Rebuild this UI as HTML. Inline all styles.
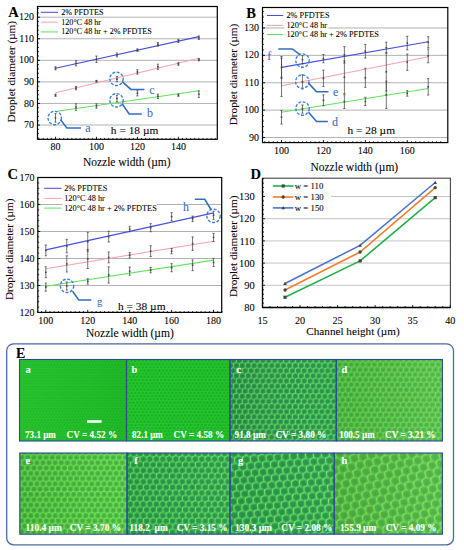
<!DOCTYPE html><html><head><meta charset="utf-8"><style>
html,body{margin:0;padding:0;background:#fff;width:464px;height:550px;overflow:hidden}
svg{display:block;font-family:"Liberation Serif",serif}
text{stroke:currentColor;stroke-width:0.08px;paint-order:stroke}
</style></head><body>
<svg width="464" height="550" viewBox="0 0 464 550">
<defs>
<radialGradient id="pac" cx="0.5" cy="0.5" r="0.5" fx="0.6" fy="0.6"><stop offset="0" stop-color="rgb(27,175,36)"/><stop offset="0.55" stop-color="rgb(28,184,38)"/><stop offset="1" stop-color="rgb(29,189,38)"/></radialGradient>
<pattern id="pa" patternUnits="userSpaceOnUse" width="3.2" height="5.54" patternTransform="rotate(0)"><rect width="3.2" height="5.54" fill="rgb(30,192,38)"/><circle cx="1.34" cy="1.19" r="1.54" fill="rgb(38,200,44)"/><circle cx="-0.26" cy="3.96" r="1.54" fill="rgb(38,200,44)"/><circle cx="2.94" cy="3.96" r="1.54" fill="rgb(38,200,44)"/><circle cx="1.34" cy="6.74" r="1.54" fill="rgb(38,200,44)"/><circle cx="1.34" cy="-4.35" r="1.54" fill="rgb(38,200,44)"/><circle cx="-0.26" cy="-1.58" r="1.54" fill="rgb(38,200,44)"/><circle cx="2.94" cy="-1.58" r="1.54" fill="rgb(38,200,44)"/><circle cx="1.73" cy="1.5" r="1.38" fill="url(#pac)"/><circle cx="0.13" cy="4.27" r="1.38" fill="url(#pac)"/><circle cx="3.33" cy="4.27" r="1.38" fill="url(#pac)"/><circle cx="1.73" cy="7.04" r="1.38" fill="url(#pac)"/><circle cx="1.73" cy="-4.04" r="1.38" fill="url(#pac)"/><circle cx="0.13" cy="-1.27" r="1.38" fill="url(#pac)"/><circle cx="3.33" cy="-1.27" r="1.38" fill="url(#pac)"/></pattern>
<linearGradient id="oa" x1="0" y1="0" x2="1" y2="0"><stop offset="0" stop-color="rgba(255,255,255,0.03)"/><stop offset="1" stop-color="rgba(0,0,0,0.04)"/></linearGradient>
<radialGradient id="pbc" cx="0.5" cy="0.5" r="0.5" fx="0.6" fy="0.6"><stop offset="0" stop-color="rgb(25,171,38)"/><stop offset="0.55" stop-color="rgb(26,180,40)"/><stop offset="1" stop-color="rgb(28,188,39)"/></radialGradient>
<pattern id="pb" patternUnits="userSpaceOnUse" width="3.7" height="6.41" patternTransform="rotate(0)"><rect width="3.7" height="6.41" fill="rgb(30,194,38)"/><circle cx="1.55" cy="1.38" r="1.78" fill="rgb(44,210,50)"/><circle cx="-0.3" cy="4.58" r="1.78" fill="rgb(44,210,50)"/><circle cx="3.4" cy="4.58" r="1.78" fill="rgb(44,210,50)"/><circle cx="1.55" cy="7.79" r="1.78" fill="rgb(44,210,50)"/><circle cx="1.55" cy="-5.03" r="1.78" fill="rgb(44,210,50)"/><circle cx="-0.3" cy="-1.82" r="1.78" fill="rgb(44,210,50)"/><circle cx="3.4" cy="-1.82" r="1.78" fill="rgb(44,210,50)"/><circle cx="2" cy="1.73" r="1.59" fill="url(#pbc)"/><circle cx="0.15" cy="4.94" r="1.59" fill="url(#pbc)"/><circle cx="3.85" cy="4.94" r="1.59" fill="url(#pbc)"/><circle cx="2" cy="8.14" r="1.59" fill="url(#pbc)"/><circle cx="2" cy="-4.68" r="1.59" fill="url(#pbc)"/><circle cx="0.15" cy="-1.47" r="1.59" fill="url(#pbc)"/><circle cx="3.85" cy="-1.47" r="1.59" fill="url(#pbc)"/></pattern>
<linearGradient id="ob" x1="0" y1="0" x2="1" y2="0"><stop offset="0" stop-color="rgba(0,0,0,0)"/><stop offset="1" stop-color="rgba(0,0,0,0.02)"/></linearGradient>
<radialGradient id="pcc" cx="0.5" cy="0.5" r="0.5" fx="0.6" fy="0.6"><stop offset="0" stop-color="rgb(40,137,72)"/><stop offset="0.55" stop-color="rgb(42,144,76)"/><stop offset="1" stop-color="rgb(52,160,78)"/></radialGradient>
<pattern id="pc" patternUnits="userSpaceOnUse" width="5.9" height="10.22" patternTransform="rotate(0)"><rect width="5.9" height="10.22" fill="rgb(58,170,80)"/><circle cx="2.48" cy="2.2" r="2.83" fill="rgb(98,232,100)"/><circle cx="-0.47" cy="7.31" r="2.83" fill="rgb(98,232,100)"/><circle cx="5.43" cy="7.31" r="2.83" fill="rgb(98,232,100)"/><circle cx="2.48" cy="12.42" r="2.83" fill="rgb(98,232,100)"/><circle cx="2.48" cy="-8.02" r="2.83" fill="rgb(98,232,100)"/><circle cx="-0.47" cy="-2.91" r="2.83" fill="rgb(98,232,100)"/><circle cx="5.43" cy="-2.91" r="2.83" fill="rgb(98,232,100)"/><circle cx="3.19" cy="2.76" r="2.54" fill="url(#pcc)"/><circle cx="0.24" cy="7.87" r="2.54" fill="url(#pcc)"/><circle cx="6.14" cy="7.87" r="2.54" fill="url(#pcc)"/><circle cx="3.19" cy="12.98" r="2.54" fill="url(#pcc)"/><circle cx="3.19" cy="-7.46" r="2.54" fill="url(#pcc)"/><circle cx="0.24" cy="-2.35" r="2.54" fill="url(#pcc)"/><circle cx="6.14" cy="-2.35" r="2.54" fill="url(#pcc)"/></pattern>
<linearGradient id="oc" x1="0" y1="0" x2="1" y2="0"><stop offset="0" stop-color="rgba(0,0,0,0.07)"/><stop offset="1" stop-color="rgba(255,255,255,0.02)"/></linearGradient>
<radialGradient id="pdc" cx="0.5" cy="0.5" r="0.5" fx="0.6" fy="0.6"><stop offset="0" stop-color="rgb(68,169,61)"/><stop offset="0.55" stop-color="rgb(72,178,64)"/><stop offset="1" stop-color="rgb(82,191,68)"/></radialGradient>
<pattern id="pd" patternUnits="userSpaceOnUse" width="5.8" height="10.05" patternTransform="rotate(0)"><rect width="5.8" height="10.05" fill="rgb(88,200,70)"/><circle cx="2.44" cy="2.16" r="2.78" fill="rgb(108,224,84)"/><circle cx="-0.46" cy="7.19" r="2.78" fill="rgb(108,224,84)"/><circle cx="5.34" cy="7.19" r="2.78" fill="rgb(108,224,84)"/><circle cx="2.44" cy="12.21" r="2.78" fill="rgb(108,224,84)"/><circle cx="2.44" cy="-7.88" r="2.78" fill="rgb(108,224,84)"/><circle cx="-0.46" cy="-2.86" r="2.78" fill="rgb(108,224,84)"/><circle cx="5.34" cy="-2.86" r="2.78" fill="rgb(108,224,84)"/><circle cx="3.13" cy="2.71" r="2.49" fill="url(#pdc)"/><circle cx="0.23" cy="7.74" r="2.49" fill="url(#pdc)"/><circle cx="6.03" cy="7.74" r="2.49" fill="url(#pdc)"/><circle cx="3.13" cy="12.76" r="2.49" fill="url(#pdc)"/><circle cx="3.13" cy="-7.33" r="2.49" fill="url(#pdc)"/><circle cx="0.23" cy="-2.31" r="2.49" fill="url(#pdc)"/><circle cx="6.03" cy="-2.31" r="2.49" fill="url(#pdc)"/></pattern>
<linearGradient id="od" x1="0" y1="0" x2="1" y2="0"><stop offset="0" stop-color="rgba(0,0,0,0.06)"/><stop offset="1" stop-color="rgba(255,255,255,0.08)"/></linearGradient>
<radialGradient id="pec" cx="0.5" cy="0.5" r="0.5" fx="0.6" fy="0.6"><stop offset="0" stop-color="rgb(65,169,57)"/><stop offset="0.55" stop-color="rgb(68,178,60)"/><stop offset="1" stop-color="rgb(80,194,64)"/></radialGradient>
<pattern id="pe" patternUnits="userSpaceOnUse" width="6.1" height="10.57" patternTransform="rotate(0)"><rect width="6.1" height="10.57" fill="rgb(88,204,66)"/><circle cx="2.56" cy="2.28" r="2.93" fill="rgb(114,232,86)"/><circle cx="-0.49" cy="7.56" r="2.93" fill="rgb(114,232,86)"/><circle cx="5.61" cy="7.56" r="2.93" fill="rgb(114,232,86)"/><circle cx="2.56" cy="12.84" r="2.93" fill="rgb(114,232,86)"/><circle cx="2.56" cy="-8.29" r="2.93" fill="rgb(114,232,86)"/><circle cx="-0.49" cy="-3.01" r="2.93" fill="rgb(114,232,86)"/><circle cx="5.61" cy="-3.01" r="2.93" fill="rgb(114,232,86)"/><circle cx="3.29" cy="2.85" r="2.62" fill="url(#pec)"/><circle cx="0.24" cy="8.14" r="2.62" fill="url(#pec)"/><circle cx="6.34" cy="8.14" r="2.62" fill="url(#pec)"/><circle cx="3.29" cy="13.42" r="2.62" fill="url(#pec)"/><circle cx="3.29" cy="-7.71" r="2.62" fill="url(#pec)"/><circle cx="0.24" cy="-2.43" r="2.62" fill="url(#pec)"/><circle cx="6.34" cy="-2.43" r="2.62" fill="url(#pec)"/></pattern>
<linearGradient id="oe" x1="0" y1="0" x2="1" y2="0"><stop offset="0" stop-color="rgba(0,0,0,0.07)"/><stop offset="1" stop-color="rgba(255,255,255,0.04)"/></linearGradient>
<radialGradient id="pfc" cx="0.5" cy="0.5" r="0.5" fx="0.6" fy="0.6"><stop offset="0" stop-color="rgb(42,142,70)"/><stop offset="0.55" stop-color="rgb(44,150,74)"/><stop offset="1" stop-color="rgb(52,164,76)"/></radialGradient>
<pattern id="pf" patternUnits="userSpaceOnUse" width="6.5" height="11.26" patternTransform="rotate(0)"><rect width="6.5" height="11.26" fill="rgb(58,174,78)"/><circle cx="2.73" cy="2.42" r="3.12" fill="rgb(100,234,100)"/><circle cx="-0.52" cy="8.05" r="3.12" fill="rgb(100,234,100)"/><circle cx="5.98" cy="8.05" r="3.12" fill="rgb(100,234,100)"/><circle cx="2.73" cy="13.68" r="3.12" fill="rgb(100,234,100)"/><circle cx="2.73" cy="-8.83" r="3.12" fill="rgb(100,234,100)"/><circle cx="-0.52" cy="-3.2" r="3.12" fill="rgb(100,234,100)"/><circle cx="5.98" cy="-3.2" r="3.12" fill="rgb(100,234,100)"/><circle cx="3.51" cy="3.04" r="2.79" fill="url(#pfc)"/><circle cx="0.26" cy="8.67" r="2.79" fill="url(#pfc)"/><circle cx="6.76" cy="8.67" r="2.79" fill="url(#pfc)"/><circle cx="3.51" cy="14.3" r="2.79" fill="url(#pfc)"/><circle cx="3.51" cy="-8.22" r="2.79" fill="url(#pfc)"/><circle cx="0.26" cy="-2.59" r="2.79" fill="url(#pfc)"/><circle cx="6.76" cy="-2.59" r="2.79" fill="url(#pfc)"/></pattern>
<linearGradient id="of" x1="0" y1="0" x2="1" y2="0"><stop offset="0" stop-color="rgba(0,0,0,0.03)"/><stop offset="1" stop-color="rgba(255,255,255,0.03)"/></linearGradient>
<radialGradient id="pgc" cx="0.5" cy="0.5" r="0.5" fx="0.6" fy="0.6"><stop offset="0" stop-color="rgb(42,141,70)"/><stop offset="0.55" stop-color="rgb(44,148,74)"/><stop offset="1" stop-color="rgb(54,164,78)"/></radialGradient>
<pattern id="pg" patternUnits="userSpaceOnUse" width="7.9" height="13.68" patternTransform="rotate(-4)"><rect width="7.9" height="13.68" fill="rgb(60,174,80)"/><circle cx="3.32" cy="2.95" r="3.79" fill="rgb(104,238,104)"/><circle cx="-0.63" cy="9.79" r="3.79" fill="rgb(104,238,104)"/><circle cx="7.27" cy="9.79" r="3.79" fill="rgb(104,238,104)"/><circle cx="3.32" cy="16.63" r="3.79" fill="rgb(104,238,104)"/><circle cx="3.32" cy="-10.74" r="3.79" fill="rgb(104,238,104)"/><circle cx="-0.63" cy="-3.89" r="3.79" fill="rgb(104,238,104)"/><circle cx="7.27" cy="-3.89" r="3.79" fill="rgb(104,238,104)"/><circle cx="4.27" cy="3.7" r="3.4" fill="url(#pgc)"/><circle cx="0.32" cy="10.54" r="3.4" fill="url(#pgc)"/><circle cx="8.22" cy="10.54" r="3.4" fill="url(#pgc)"/><circle cx="4.27" cy="17.38" r="3.4" fill="url(#pgc)"/><circle cx="4.27" cy="-9.99" r="3.4" fill="url(#pgc)"/><circle cx="0.32" cy="-3.14" r="3.4" fill="url(#pgc)"/><circle cx="8.22" cy="-3.14" r="3.4" fill="url(#pgc)"/></pattern>
<linearGradient id="og" x1="0" y1="0" x2="1" y2="0"><stop offset="0" stop-color="rgba(0,0,0,0.03)"/><stop offset="1" stop-color="rgba(255,255,255,0.03)"/></linearGradient>
<radialGradient id="phc" cx="0.5" cy="0.5" r="0.5" fx="0.6" fy="0.6"><stop offset="0" stop-color="rgb(74,167,63)"/><stop offset="0.55" stop-color="rgb(78,176,66)"/><stop offset="1" stop-color="rgb(85,187,68)"/></radialGradient>
<pattern id="ph" patternUnits="userSpaceOnUse" width="8.8" height="15.24" patternTransform="rotate(-12)"><rect width="8.8" height="15.24" fill="rgb(90,194,70)"/><circle cx="3.7" cy="3.28" r="4.22" fill="rgb(120,234,92)"/><circle cx="-0.7" cy="10.9" r="4.22" fill="rgb(120,234,92)"/><circle cx="8.1" cy="10.9" r="4.22" fill="rgb(120,234,92)"/><circle cx="3.7" cy="18.52" r="4.22" fill="rgb(120,234,92)"/><circle cx="3.7" cy="-11.96" r="4.22" fill="rgb(120,234,92)"/><circle cx="-0.7" cy="-4.34" r="4.22" fill="rgb(120,234,92)"/><circle cx="8.1" cy="-4.34" r="4.22" fill="rgb(120,234,92)"/><circle cx="4.75" cy="4.12" r="3.78" fill="url(#phc)"/><circle cx="0.35" cy="11.74" r="3.78" fill="url(#phc)"/><circle cx="9.15" cy="11.74" r="3.78" fill="url(#phc)"/><circle cx="4.75" cy="19.36" r="3.78" fill="url(#phc)"/><circle cx="4.75" cy="-11.12" r="3.78" fill="url(#phc)"/><circle cx="0.35" cy="-3.5" r="3.78" fill="url(#phc)"/><circle cx="9.15" cy="-3.5" r="3.78" fill="url(#phc)"/></pattern>
<linearGradient id="oh" x1="0" y1="0" x2="1" y2="0"><stop offset="0" stop-color="rgba(0,0,0,0.05)"/><stop offset="1" stop-color="rgba(255,255,255,0.05)"/></linearGradient>
<filter id="soft" x="0" y="0" width="1" height="1"><feGaussianBlur stdDeviation="0.45"/></filter>
</defs>
<line x1="37.5" y1="125" x2="217.3" y2="125" stroke="#a9a9a9" stroke-width="0.9" />
<line x1="37.5" y1="103.44" x2="217.3" y2="103.44" stroke="#a9a9a9" stroke-width="0.9" />
<line x1="37.5" y1="81.88" x2="217.3" y2="81.88" stroke="#a9a9a9" stroke-width="0.9" />
<line x1="37.5" y1="60.32" x2="217.3" y2="60.32" stroke="#a9a9a9" stroke-width="0.9" />
<line x1="37.5" y1="38.76" x2="217.3" y2="38.76" stroke="#a9a9a9" stroke-width="0.9" />
<line x1="37.5" y1="17.2" x2="217.3" y2="17.2" stroke="#a9a9a9" stroke-width="0.9" />
<line x1="55.5" y1="68.3" x2="198.86" y2="36.6" stroke="#4650dc" stroke-width="1.1" />
<line x1="55.5" y1="92.66" x2="198.86" y2="58.16" stroke="#f5a5ae" stroke-width="1.1" />
<line x1="55.5" y1="111.42" x2="198.86" y2="90.72" stroke="#62e35e" stroke-width="1.1" />
<line x1="55.5" y1="66.79" x2="55.5" y2="69.81" stroke="#3a3a3a" stroke-width="0.7" />
<line x1="54.4" y1="66.79" x2="56.6" y2="66.79" stroke="#3a3a3a" stroke-width="0.7" />
<line x1="54.4" y1="69.81" x2="56.6" y2="69.81" stroke="#3a3a3a" stroke-width="0.7" />
<rect x="54.7" y="67.5" width="1.6" height="1.6" fill="#444"/>
<line x1="75.98" y1="60.75" x2="75.98" y2="65.93" stroke="#3a3a3a" stroke-width="0.7" />
<line x1="74.88" y1="60.75" x2="77.08" y2="60.75" stroke="#3a3a3a" stroke-width="0.7" />
<line x1="74.88" y1="65.93" x2="77.08" y2="65.93" stroke="#3a3a3a" stroke-width="0.7" />
<rect x="75.18" y="62.54" width="1.6" height="1.6" fill="#444"/>
<line x1="96.46" y1="56.01" x2="96.46" y2="62.48" stroke="#3a3a3a" stroke-width="0.7" />
<line x1="95.36" y1="56.01" x2="97.56" y2="56.01" stroke="#3a3a3a" stroke-width="0.7" />
<line x1="95.36" y1="62.48" x2="97.56" y2="62.48" stroke="#3a3a3a" stroke-width="0.7" />
<rect x="95.66" y="58.44" width="1.6" height="1.6" fill="#444"/>
<line x1="116.94" y1="52.99" x2="116.94" y2="56.87" stroke="#3a3a3a" stroke-width="0.7" />
<line x1="115.84" y1="52.99" x2="118.04" y2="52.99" stroke="#3a3a3a" stroke-width="0.7" />
<line x1="115.84" y1="56.87" x2="118.04" y2="56.87" stroke="#3a3a3a" stroke-width="0.7" />
<rect x="116.14" y="54.13" width="1.6" height="1.6" fill="#444"/>
<line x1="137.42" y1="48.89" x2="137.42" y2="51.48" stroke="#3a3a3a" stroke-width="0.7" />
<line x1="136.32" y1="48.89" x2="138.52" y2="48.89" stroke="#3a3a3a" stroke-width="0.7" />
<line x1="136.32" y1="51.48" x2="138.52" y2="51.48" stroke="#3a3a3a" stroke-width="0.7" />
<rect x="136.62" y="49.39" width="1.6" height="1.6" fill="#444"/>
<line x1="157.9" y1="42.64" x2="157.9" y2="46.09" stroke="#3a3a3a" stroke-width="0.7" />
<line x1="156.8" y1="42.64" x2="159" y2="42.64" stroke="#3a3a3a" stroke-width="0.7" />
<line x1="156.8" y1="46.09" x2="159" y2="46.09" stroke="#3a3a3a" stroke-width="0.7" />
<rect x="157.1" y="43.57" width="1.6" height="1.6" fill="#444"/>
<line x1="178.38" y1="39.41" x2="178.38" y2="42.43" stroke="#3a3a3a" stroke-width="0.7" />
<line x1="177.28" y1="39.41" x2="179.48" y2="39.41" stroke="#3a3a3a" stroke-width="0.7" />
<line x1="177.28" y1="42.43" x2="179.48" y2="42.43" stroke="#3a3a3a" stroke-width="0.7" />
<rect x="177.58" y="40.12" width="1.6" height="1.6" fill="#444"/>
<line x1="198.86" y1="35.96" x2="198.86" y2="39.41" stroke="#3a3a3a" stroke-width="0.7" />
<line x1="197.76" y1="35.96" x2="199.96" y2="35.96" stroke="#3a3a3a" stroke-width="0.7" />
<line x1="197.76" y1="39.41" x2="199.96" y2="39.41" stroke="#3a3a3a" stroke-width="0.7" />
<rect x="198.06" y="36.88" width="1.6" height="1.6" fill="#444"/>
<line x1="55.5" y1="94.17" x2="55.5" y2="96.33" stroke="#3a3a3a" stroke-width="0.7" />
<line x1="54.4" y1="94.17" x2="56.6" y2="94.17" stroke="#3a3a3a" stroke-width="0.7" />
<line x1="54.4" y1="96.33" x2="56.6" y2="96.33" stroke="#3a3a3a" stroke-width="0.7" />
<rect x="54.7" y="94.45" width="1.6" height="1.6" fill="#444"/>
<line x1="75.98" y1="86.41" x2="75.98" y2="89.86" stroke="#3a3a3a" stroke-width="0.7" />
<line x1="74.88" y1="86.41" x2="77.08" y2="86.41" stroke="#3a3a3a" stroke-width="0.7" />
<line x1="74.88" y1="89.86" x2="77.08" y2="89.86" stroke="#3a3a3a" stroke-width="0.7" />
<rect x="75.18" y="87.33" width="1.6" height="1.6" fill="#444"/>
<line x1="96.46" y1="80.37" x2="96.46" y2="82.1" stroke="#3a3a3a" stroke-width="0.7" />
<line x1="95.36" y1="80.37" x2="97.56" y2="80.37" stroke="#3a3a3a" stroke-width="0.7" />
<line x1="95.36" y1="82.1" x2="97.56" y2="82.1" stroke="#3a3a3a" stroke-width="0.7" />
<rect x="95.66" y="80.43" width="1.6" height="1.6" fill="#444"/>
<line x1="116.94" y1="76.49" x2="116.94" y2="81.66" stroke="#3a3a3a" stroke-width="0.7" />
<line x1="115.84" y1="76.49" x2="118.04" y2="76.49" stroke="#3a3a3a" stroke-width="0.7" />
<line x1="115.84" y1="81.66" x2="118.04" y2="81.66" stroke="#3a3a3a" stroke-width="0.7" />
<rect x="116.14" y="78.28" width="1.6" height="1.6" fill="#444"/>
<line x1="137.42" y1="69.81" x2="137.42" y2="74.12" stroke="#3a3a3a" stroke-width="0.7" />
<line x1="136.32" y1="69.81" x2="138.52" y2="69.81" stroke="#3a3a3a" stroke-width="0.7" />
<line x1="136.32" y1="74.12" x2="138.52" y2="74.12" stroke="#3a3a3a" stroke-width="0.7" />
<rect x="136.62" y="71.16" width="1.6" height="1.6" fill="#444"/>
<line x1="157.9" y1="64.2" x2="157.9" y2="69.38" stroke="#3a3a3a" stroke-width="0.7" />
<line x1="156.8" y1="64.2" x2="159" y2="64.2" stroke="#3a3a3a" stroke-width="0.7" />
<line x1="156.8" y1="69.38" x2="159" y2="69.38" stroke="#3a3a3a" stroke-width="0.7" />
<rect x="157.1" y="65.99" width="1.6" height="1.6" fill="#444"/>
<line x1="178.38" y1="62.69" x2="178.38" y2="65.28" stroke="#3a3a3a" stroke-width="0.7" />
<line x1="177.28" y1="62.69" x2="179.48" y2="62.69" stroke="#3a3a3a" stroke-width="0.7" />
<line x1="177.28" y1="65.28" x2="179.48" y2="65.28" stroke="#3a3a3a" stroke-width="0.7" />
<rect x="177.58" y="63.19" width="1.6" height="1.6" fill="#444"/>
<line x1="198.86" y1="58.6" x2="198.86" y2="60.75" stroke="#3a3a3a" stroke-width="0.7" />
<line x1="197.76" y1="58.6" x2="199.96" y2="58.6" stroke="#3a3a3a" stroke-width="0.7" />
<line x1="197.76" y1="60.75" x2="199.96" y2="60.75" stroke="#3a3a3a" stroke-width="0.7" />
<rect x="198.06" y="58.87" width="1.6" height="1.6" fill="#444"/>
<line x1="55.5" y1="113.57" x2="55.5" y2="122.2" stroke="#3a3a3a" stroke-width="0.7" />
<line x1="54.4" y1="113.57" x2="56.6" y2="113.57" stroke="#3a3a3a" stroke-width="0.7" />
<line x1="54.4" y1="122.2" x2="56.6" y2="122.2" stroke="#3a3a3a" stroke-width="0.7" />
<rect x="54.7" y="117.09" width="1.6" height="1.6" fill="#444"/>
<line x1="75.98" y1="103.87" x2="75.98" y2="110.34" stroke="#3a3a3a" stroke-width="0.7" />
<line x1="74.88" y1="103.87" x2="77.08" y2="103.87" stroke="#3a3a3a" stroke-width="0.7" />
<line x1="74.88" y1="110.34" x2="77.08" y2="110.34" stroke="#3a3a3a" stroke-width="0.7" />
<rect x="75.18" y="106.31" width="1.6" height="1.6" fill="#444"/>
<line x1="96.46" y1="103.87" x2="96.46" y2="108.18" stroke="#3a3a3a" stroke-width="0.7" />
<line x1="95.36" y1="103.87" x2="97.56" y2="103.87" stroke="#3a3a3a" stroke-width="0.7" />
<line x1="95.36" y1="108.18" x2="97.56" y2="108.18" stroke="#3a3a3a" stroke-width="0.7" />
<rect x="95.66" y="105.23" width="1.6" height="1.6" fill="#444"/>
<line x1="116.94" y1="95.25" x2="116.94" y2="101.72" stroke="#3a3a3a" stroke-width="0.7" />
<line x1="115.84" y1="95.25" x2="118.04" y2="95.25" stroke="#3a3a3a" stroke-width="0.7" />
<line x1="115.84" y1="101.72" x2="118.04" y2="101.72" stroke="#3a3a3a" stroke-width="0.7" />
<rect x="116.14" y="97.68" width="1.6" height="1.6" fill="#444"/>
<line x1="137.42" y1="90.72" x2="137.42" y2="95.89" stroke="#3a3a3a" stroke-width="0.7" />
<line x1="136.32" y1="90.72" x2="138.52" y2="90.72" stroke="#3a3a3a" stroke-width="0.7" />
<line x1="136.32" y1="95.89" x2="138.52" y2="95.89" stroke="#3a3a3a" stroke-width="0.7" />
<rect x="136.62" y="92.51" width="1.6" height="1.6" fill="#444"/>
<line x1="157.9" y1="94.17" x2="157.9" y2="98.48" stroke="#3a3a3a" stroke-width="0.7" />
<line x1="156.8" y1="94.17" x2="159" y2="94.17" stroke="#3a3a3a" stroke-width="0.7" />
<line x1="156.8" y1="98.48" x2="159" y2="98.48" stroke="#3a3a3a" stroke-width="0.7" />
<rect x="157.1" y="95.53" width="1.6" height="1.6" fill="#444"/>
<line x1="178.38" y1="94.17" x2="178.38" y2="96.33" stroke="#3a3a3a" stroke-width="0.7" />
<line x1="177.28" y1="94.17" x2="179.48" y2="94.17" stroke="#3a3a3a" stroke-width="0.7" />
<line x1="177.28" y1="96.33" x2="179.48" y2="96.33" stroke="#3a3a3a" stroke-width="0.7" />
<rect x="177.58" y="94.45" width="1.6" height="1.6" fill="#444"/>
<line x1="198.86" y1="90.94" x2="198.86" y2="97.4" stroke="#3a3a3a" stroke-width="0.7" />
<line x1="197.76" y1="90.94" x2="199.96" y2="90.94" stroke="#3a3a3a" stroke-width="0.7" />
<line x1="197.76" y1="97.4" x2="199.96" y2="97.4" stroke="#3a3a3a" stroke-width="0.7" />
<rect x="198.06" y="93.37" width="1.6" height="1.6" fill="#444"/>
<rect x="37.5" y="6.5" width="179.8" height="132.8" fill="none" stroke="#000" stroke-width="1.2"/>
<line x1="55.5" y1="139.3" x2="55.5" y2="136.8" stroke="#000" stroke-width="0.9" />
<line x1="96.46" y1="139.3" x2="96.46" y2="136.8" stroke="#000" stroke-width="0.9" />
<line x1="137.42" y1="139.3" x2="137.42" y2="136.8" stroke="#000" stroke-width="0.9" />
<line x1="178.38" y1="139.3" x2="178.38" y2="136.8" stroke="#000" stroke-width="0.9" />
<line x1="39.12" y1="139.3" x2="39.12" y2="137.9" stroke="#000" stroke-width="0.8" />
<line x1="43.21" y1="139.3" x2="43.21" y2="137.9" stroke="#000" stroke-width="0.8" />
<line x1="47.31" y1="139.3" x2="47.31" y2="137.9" stroke="#000" stroke-width="0.8" />
<line x1="51.4" y1="139.3" x2="51.4" y2="137.9" stroke="#000" stroke-width="0.8" />
<line x1="59.6" y1="139.3" x2="59.6" y2="137.9" stroke="#000" stroke-width="0.8" />
<line x1="63.69" y1="139.3" x2="63.69" y2="137.9" stroke="#000" stroke-width="0.8" />
<line x1="67.79" y1="139.3" x2="67.79" y2="137.9" stroke="#000" stroke-width="0.8" />
<line x1="71.88" y1="139.3" x2="71.88" y2="137.9" stroke="#000" stroke-width="0.8" />
<line x1="75.98" y1="139.3" x2="75.98" y2="137.9" stroke="#000" stroke-width="0.8" />
<line x1="80.08" y1="139.3" x2="80.08" y2="137.9" stroke="#000" stroke-width="0.8" />
<line x1="84.17" y1="139.3" x2="84.17" y2="137.9" stroke="#000" stroke-width="0.8" />
<line x1="88.27" y1="139.3" x2="88.27" y2="137.9" stroke="#000" stroke-width="0.8" />
<line x1="92.36" y1="139.3" x2="92.36" y2="137.9" stroke="#000" stroke-width="0.8" />
<line x1="100.56" y1="139.3" x2="100.56" y2="137.9" stroke="#000" stroke-width="0.8" />
<line x1="104.65" y1="139.3" x2="104.65" y2="137.9" stroke="#000" stroke-width="0.8" />
<line x1="108.75" y1="139.3" x2="108.75" y2="137.9" stroke="#000" stroke-width="0.8" />
<line x1="112.84" y1="139.3" x2="112.84" y2="137.9" stroke="#000" stroke-width="0.8" />
<line x1="116.94" y1="139.3" x2="116.94" y2="137.9" stroke="#000" stroke-width="0.8" />
<line x1="121.04" y1="139.3" x2="121.04" y2="137.9" stroke="#000" stroke-width="0.8" />
<line x1="125.13" y1="139.3" x2="125.13" y2="137.9" stroke="#000" stroke-width="0.8" />
<line x1="129.23" y1="139.3" x2="129.23" y2="137.9" stroke="#000" stroke-width="0.8" />
<line x1="133.32" y1="139.3" x2="133.32" y2="137.9" stroke="#000" stroke-width="0.8" />
<line x1="141.52" y1="139.3" x2="141.52" y2="137.9" stroke="#000" stroke-width="0.8" />
<line x1="145.61" y1="139.3" x2="145.61" y2="137.9" stroke="#000" stroke-width="0.8" />
<line x1="149.71" y1="139.3" x2="149.71" y2="137.9" stroke="#000" stroke-width="0.8" />
<line x1="153.8" y1="139.3" x2="153.8" y2="137.9" stroke="#000" stroke-width="0.8" />
<line x1="157.9" y1="139.3" x2="157.9" y2="137.9" stroke="#000" stroke-width="0.8" />
<line x1="162" y1="139.3" x2="162" y2="137.9" stroke="#000" stroke-width="0.8" />
<line x1="166.09" y1="139.3" x2="166.09" y2="137.9" stroke="#000" stroke-width="0.8" />
<line x1="170.19" y1="139.3" x2="170.19" y2="137.9" stroke="#000" stroke-width="0.8" />
<line x1="174.28" y1="139.3" x2="174.28" y2="137.9" stroke="#000" stroke-width="0.8" />
<line x1="182.48" y1="139.3" x2="182.48" y2="137.9" stroke="#000" stroke-width="0.8" />
<line x1="186.57" y1="139.3" x2="186.57" y2="137.9" stroke="#000" stroke-width="0.8" />
<line x1="190.67" y1="139.3" x2="190.67" y2="137.9" stroke="#000" stroke-width="0.8" />
<line x1="194.76" y1="139.3" x2="194.76" y2="137.9" stroke="#000" stroke-width="0.8" />
<line x1="198.86" y1="139.3" x2="198.86" y2="137.9" stroke="#000" stroke-width="0.8" />
<line x1="202.96" y1="139.3" x2="202.96" y2="137.9" stroke="#000" stroke-width="0.8" />
<line x1="207.05" y1="139.3" x2="207.05" y2="137.9" stroke="#000" stroke-width="0.8" />
<line x1="211.15" y1="139.3" x2="211.15" y2="137.9" stroke="#000" stroke-width="0.8" />
<line x1="215.24" y1="139.3" x2="215.24" y2="137.9" stroke="#000" stroke-width="0.8" />
<line x1="37.5" y1="125" x2="40" y2="125" stroke="#000" stroke-width="0.9" />
<line x1="37.5" y1="103.44" x2="40" y2="103.44" stroke="#000" stroke-width="0.9" />
<line x1="37.5" y1="81.88" x2="40" y2="81.88" stroke="#000" stroke-width="0.9" />
<line x1="37.5" y1="60.32" x2="40" y2="60.32" stroke="#000" stroke-width="0.9" />
<line x1="37.5" y1="38.76" x2="40" y2="38.76" stroke="#000" stroke-width="0.9" />
<line x1="37.5" y1="17.2" x2="40" y2="17.2" stroke="#000" stroke-width="0.9" />
<line x1="37.5" y1="137.94" x2="38.9" y2="137.94" stroke="#000" stroke-width="0.8" />
<line x1="37.5" y1="133.62" x2="38.9" y2="133.62" stroke="#000" stroke-width="0.8" />
<line x1="37.5" y1="129.31" x2="38.9" y2="129.31" stroke="#000" stroke-width="0.8" />
<line x1="37.5" y1="120.69" x2="38.9" y2="120.69" stroke="#000" stroke-width="0.8" />
<line x1="37.5" y1="116.38" x2="38.9" y2="116.38" stroke="#000" stroke-width="0.8" />
<line x1="37.5" y1="112.06" x2="38.9" y2="112.06" stroke="#000" stroke-width="0.8" />
<line x1="37.5" y1="107.75" x2="38.9" y2="107.75" stroke="#000" stroke-width="0.8" />
<line x1="37.5" y1="99.13" x2="38.9" y2="99.13" stroke="#000" stroke-width="0.8" />
<line x1="37.5" y1="94.82" x2="38.9" y2="94.82" stroke="#000" stroke-width="0.8" />
<line x1="37.5" y1="90.5" x2="38.9" y2="90.5" stroke="#000" stroke-width="0.8" />
<line x1="37.5" y1="86.19" x2="38.9" y2="86.19" stroke="#000" stroke-width="0.8" />
<line x1="37.5" y1="77.57" x2="38.9" y2="77.57" stroke="#000" stroke-width="0.8" />
<line x1="37.5" y1="73.26" x2="38.9" y2="73.26" stroke="#000" stroke-width="0.8" />
<line x1="37.5" y1="68.94" x2="38.9" y2="68.94" stroke="#000" stroke-width="0.8" />
<line x1="37.5" y1="64.63" x2="38.9" y2="64.63" stroke="#000" stroke-width="0.8" />
<line x1="37.5" y1="56.01" x2="38.9" y2="56.01" stroke="#000" stroke-width="0.8" />
<line x1="37.5" y1="51.7" x2="38.9" y2="51.7" stroke="#000" stroke-width="0.8" />
<line x1="37.5" y1="47.38" x2="38.9" y2="47.38" stroke="#000" stroke-width="0.8" />
<line x1="37.5" y1="43.07" x2="38.9" y2="43.07" stroke="#000" stroke-width="0.8" />
<line x1="37.5" y1="34.45" x2="38.9" y2="34.45" stroke="#000" stroke-width="0.8" />
<line x1="37.5" y1="30.14" x2="38.9" y2="30.14" stroke="#000" stroke-width="0.8" />
<line x1="37.5" y1="25.82" x2="38.9" y2="25.82" stroke="#000" stroke-width="0.8" />
<line x1="37.5" y1="21.51" x2="38.9" y2="21.51" stroke="#000" stroke-width="0.8" />
<line x1="37.5" y1="12.89" x2="38.9" y2="12.89" stroke="#000" stroke-width="0.8" />
<line x1="37.5" y1="8.58" x2="38.9" y2="8.58" stroke="#000" stroke-width="0.8" />
<text x="55.5" y="150.3" font-size="10" text-anchor="middle" fill="#000" color="#000" font-weight="normal" >80</text>
<text x="96.46" y="150.3" font-size="10" text-anchor="middle" fill="#000" color="#000" font-weight="normal" >100</text>
<text x="137.42" y="150.3" font-size="10" text-anchor="middle" fill="#000" color="#000" font-weight="normal" >120</text>
<text x="178.38" y="150.3" font-size="10" text-anchor="middle" fill="#000" color="#000" font-weight="normal" >140</text>
<text x="34" y="128.1" font-size="10" text-anchor="end" fill="#000" color="#000" font-weight="normal" >70</text>
<text x="34" y="106.54" font-size="10" text-anchor="end" fill="#000" color="#000" font-weight="normal" >80</text>
<text x="34" y="84.98" font-size="10" text-anchor="end" fill="#000" color="#000" font-weight="normal" >90</text>
<text x="34" y="63.42" font-size="10" text-anchor="end" fill="#000" color="#000" font-weight="normal" >100</text>
<text x="34" y="41.86" font-size="10" text-anchor="end" fill="#000" color="#000" font-weight="normal" >110</text>
<text x="34" y="20.3" font-size="10" text-anchor="end" fill="#000" color="#000" font-weight="normal" >120</text>
<text x="126.75" y="166.2" font-size="11.5" text-anchor="middle" fill="#000" color="#000" font-weight="normal" >Nozzle width (µm)</text>
<text x="0" y="0" font-size="11.2" text-anchor="middle" transform="translate(15.1,71.7) rotate(-90)">Droplet diameter (µm)</text>
<text x="8.2" y="17.4" font-size="14.5" text-anchor="start" fill="#000" color="#000" font-weight="bold" >A</text>
<line x1="40.8" y1="12.3" x2="58" y2="12.3" stroke="#4650dc" stroke-width="1.05" />
<text x="61.2" y="14.8" font-size="8.13" text-anchor="start" fill="#000" color="#000" font-weight="normal" >2% PFDTES</text>
<line x1="40.8" y1="22.2" x2="58" y2="22.2" stroke="#f5a5ae" stroke-width="1.05" />
<text x="61.2" y="24.7" font-size="8.13" text-anchor="start" fill="#000" color="#000" font-weight="normal" >120°C 48 hr</text>
<line x1="40.8" y1="31.9" x2="58" y2="31.9" stroke="#62e35e" stroke-width="1.05" />
<text x="61.2" y="34.4" font-size="8.13" text-anchor="start" fill="#000" color="#000" font-weight="normal" >120°C 48 hr + 2% PFDTES</text>
<circle cx="54.7" cy="118" r="6.7" fill="none" stroke="#3a80d4" stroke-width="1.35" stroke-dasharray="3,1.5"/>
<polyline points="60.5,119.7 66.9,127.9 81,127.9" fill="none" stroke="#2f6fc0" stroke-width="1.55"/>
<text x="85.3" y="131.6" font-size="12" text-anchor="start" fill="#2f6fc0" color="#2f6fc0" font-weight="normal" >a</text>
<circle cx="116.5" cy="78.8" r="6.7" fill="none" stroke="#3a80d4" stroke-width="1.35" stroke-dasharray="3,1.5"/>
<polyline points="122.2,81.6 130.9,89.4 144.5,89.4" fill="none" stroke="#2f6fc0" stroke-width="1.55"/>
<text x="149.3" y="93.8" font-size="12" text-anchor="start" fill="#2f6fc0" color="#2f6fc0" font-weight="normal" >c</text>
<circle cx="116.5" cy="100.3" r="6.7" fill="none" stroke="#3a80d4" stroke-width="1.35" stroke-dasharray="3,1.5"/>
<polyline points="122.2,104 129.2,113.9 141.8,113.9" fill="none" stroke="#2f6fc0" stroke-width="1.55"/>
<text x="147.1" y="117.2" font-size="12" text-anchor="start" fill="#2f6fc0" color="#2f6fc0" font-weight="normal" >b</text>
<text x="134.6" y="134.4" font-size="11.4" text-anchor="middle" fill="#000" color="#000" font-weight="normal" >h = 18 µm</text>
<line x1="262.5" y1="137.5" x2="447.8" y2="137.5" stroke="#a9a9a9" stroke-width="0.9" />
<line x1="262.5" y1="110.12" x2="447.8" y2="110.12" stroke="#a9a9a9" stroke-width="0.9" />
<line x1="262.5" y1="82.74" x2="447.8" y2="82.74" stroke="#a9a9a9" stroke-width="0.9" />
<line x1="262.5" y1="55.36" x2="447.8" y2="55.36" stroke="#a9a9a9" stroke-width="0.9" />
<line x1="262.5" y1="27.98" x2="447.8" y2="27.98" stroke="#a9a9a9" stroke-width="0.9" />
<rect x="284.4" y="21.5" width="44" height="9" fill="#fff"/>
<line x1="281.5" y1="67.41" x2="428.22" y2="41.67" stroke="#4650dc" stroke-width="1.1" />
<line x1="281.5" y1="85.75" x2="428.22" y2="56.73" stroke="#f5a5ae" stroke-width="1.1" />
<line x1="281.5" y1="112.31" x2="428.22" y2="88.49" stroke="#62e35e" stroke-width="1.1" />
<line x1="281.5" y1="56.46" x2="281.5" y2="78.36" stroke="#3a3a3a" stroke-width="0.7" />
<line x1="280.4" y1="56.46" x2="282.6" y2="56.46" stroke="#3a3a3a" stroke-width="0.7" />
<line x1="280.4" y1="78.36" x2="282.6" y2="78.36" stroke="#3a3a3a" stroke-width="0.7" />
<rect x="280.7" y="66.61" width="1.6" height="1.6" fill="#444"/>
<line x1="302.46" y1="55.63" x2="302.46" y2="63.85" stroke="#3a3a3a" stroke-width="0.7" />
<line x1="301.36" y1="55.63" x2="303.56" y2="55.63" stroke="#3a3a3a" stroke-width="0.7" />
<line x1="301.36" y1="63.85" x2="303.56" y2="63.85" stroke="#3a3a3a" stroke-width="0.7" />
<rect x="301.66" y="58.94" width="1.6" height="1.6" fill="#444"/>
<line x1="323.42" y1="54.54" x2="323.42" y2="62.75" stroke="#3a3a3a" stroke-width="0.7" />
<line x1="322.32" y1="54.54" x2="324.52" y2="54.54" stroke="#3a3a3a" stroke-width="0.7" />
<line x1="322.32" y1="62.75" x2="324.52" y2="62.75" stroke="#3a3a3a" stroke-width="0.7" />
<rect x="322.62" y="57.85" width="1.6" height="1.6" fill="#444"/>
<line x1="344.38" y1="46.6" x2="344.38" y2="63.03" stroke="#3a3a3a" stroke-width="0.7" />
<line x1="343.28" y1="46.6" x2="345.48" y2="46.6" stroke="#3a3a3a" stroke-width="0.7" />
<line x1="343.28" y1="63.03" x2="345.48" y2="63.03" stroke="#3a3a3a" stroke-width="0.7" />
<rect x="343.58" y="54.01" width="1.6" height="1.6" fill="#444"/>
<line x1="365.34" y1="44.41" x2="365.34" y2="58.1" stroke="#3a3a3a" stroke-width="0.7" />
<line x1="364.24" y1="44.41" x2="366.44" y2="44.41" stroke="#3a3a3a" stroke-width="0.7" />
<line x1="364.24" y1="58.1" x2="366.44" y2="58.1" stroke="#3a3a3a" stroke-width="0.7" />
<rect x="364.54" y="50.45" width="1.6" height="1.6" fill="#444"/>
<line x1="386.3" y1="42.22" x2="386.3" y2="53.17" stroke="#3a3a3a" stroke-width="0.7" />
<line x1="385.2" y1="42.22" x2="387.4" y2="42.22" stroke="#3a3a3a" stroke-width="0.7" />
<line x1="385.2" y1="53.17" x2="387.4" y2="53.17" stroke="#3a3a3a" stroke-width="0.7" />
<rect x="385.5" y="46.89" width="1.6" height="1.6" fill="#444"/>
<line x1="407.26" y1="36.19" x2="407.26" y2="49.88" stroke="#3a3a3a" stroke-width="0.7" />
<line x1="406.16" y1="36.19" x2="408.36" y2="36.19" stroke="#3a3a3a" stroke-width="0.7" />
<line x1="406.16" y1="49.88" x2="408.36" y2="49.88" stroke="#3a3a3a" stroke-width="0.7" />
<rect x="406.46" y="42.24" width="1.6" height="1.6" fill="#444"/>
<line x1="428.22" y1="36.74" x2="428.22" y2="47.69" stroke="#3a3a3a" stroke-width="0.7" />
<line x1="427.12" y1="36.74" x2="429.32" y2="36.74" stroke="#3a3a3a" stroke-width="0.7" />
<line x1="427.12" y1="47.69" x2="429.32" y2="47.69" stroke="#3a3a3a" stroke-width="0.7" />
<rect x="427.42" y="41.42" width="1.6" height="1.6" fill="#444"/>
<line x1="281.5" y1="58.1" x2="281.5" y2="96.43" stroke="#3a3a3a" stroke-width="0.7" />
<line x1="280.4" y1="58.1" x2="282.6" y2="58.1" stroke="#3a3a3a" stroke-width="0.7" />
<line x1="280.4" y1="96.43" x2="282.6" y2="96.43" stroke="#3a3a3a" stroke-width="0.7" />
<rect x="280.7" y="76.46" width="1.6" height="1.6" fill="#444"/>
<line x1="302.46" y1="74.8" x2="302.46" y2="89.04" stroke="#3a3a3a" stroke-width="0.7" />
<line x1="301.36" y1="74.8" x2="303.56" y2="74.8" stroke="#3a3a3a" stroke-width="0.7" />
<line x1="301.36" y1="89.04" x2="303.56" y2="89.04" stroke="#3a3a3a" stroke-width="0.7" />
<rect x="301.66" y="81.12" width="1.6" height="1.6" fill="#444"/>
<line x1="323.42" y1="70.15" x2="323.42" y2="86.57" stroke="#3a3a3a" stroke-width="0.7" />
<line x1="322.32" y1="70.15" x2="324.52" y2="70.15" stroke="#3a3a3a" stroke-width="0.7" />
<line x1="322.32" y1="86.57" x2="324.52" y2="86.57" stroke="#3a3a3a" stroke-width="0.7" />
<rect x="322.62" y="77.56" width="1.6" height="1.6" fill="#444"/>
<line x1="344.38" y1="60.84" x2="344.38" y2="93.69" stroke="#3a3a3a" stroke-width="0.7" />
<line x1="343.28" y1="60.84" x2="345.48" y2="60.84" stroke="#3a3a3a" stroke-width="0.7" />
<line x1="343.28" y1="93.69" x2="345.48" y2="93.69" stroke="#3a3a3a" stroke-width="0.7" />
<rect x="343.58" y="76.46" width="1.6" height="1.6" fill="#444"/>
<line x1="365.34" y1="68.23" x2="365.34" y2="87.39" stroke="#3a3a3a" stroke-width="0.7" />
<line x1="364.24" y1="68.23" x2="366.44" y2="68.23" stroke="#3a3a3a" stroke-width="0.7" />
<line x1="364.24" y1="87.39" x2="366.44" y2="87.39" stroke="#3a3a3a" stroke-width="0.7" />
<rect x="364.54" y="77.01" width="1.6" height="1.6" fill="#444"/>
<line x1="386.3" y1="52.62" x2="386.3" y2="90.95" stroke="#3a3a3a" stroke-width="0.7" />
<line x1="385.2" y1="52.62" x2="387.4" y2="52.62" stroke="#3a3a3a" stroke-width="0.7" />
<line x1="385.2" y1="90.95" x2="387.4" y2="90.95" stroke="#3a3a3a" stroke-width="0.7" />
<rect x="385.5" y="70.99" width="1.6" height="1.6" fill="#444"/>
<line x1="407.26" y1="53.99" x2="407.26" y2="70.42" stroke="#3a3a3a" stroke-width="0.7" />
<line x1="406.16" y1="53.99" x2="408.36" y2="53.99" stroke="#3a3a3a" stroke-width="0.7" />
<line x1="406.16" y1="70.42" x2="408.36" y2="70.42" stroke="#3a3a3a" stroke-width="0.7" />
<rect x="406.46" y="61.41" width="1.6" height="1.6" fill="#444"/>
<line x1="428.22" y1="49.06" x2="428.22" y2="62.75" stroke="#3a3a3a" stroke-width="0.7" />
<line x1="427.12" y1="49.06" x2="429.32" y2="49.06" stroke="#3a3a3a" stroke-width="0.7" />
<line x1="427.12" y1="62.75" x2="429.32" y2="62.75" stroke="#3a3a3a" stroke-width="0.7" />
<rect x="427.42" y="55.11" width="1.6" height="1.6" fill="#444"/>
<line x1="281.5" y1="110.39" x2="281.5" y2="124.08" stroke="#3a3a3a" stroke-width="0.7" />
<line x1="280.4" y1="110.39" x2="282.6" y2="110.39" stroke="#3a3a3a" stroke-width="0.7" />
<line x1="280.4" y1="124.08" x2="282.6" y2="124.08" stroke="#3a3a3a" stroke-width="0.7" />
<rect x="280.7" y="116.44" width="1.6" height="1.6" fill="#444"/>
<line x1="302.46" y1="104.92" x2="302.46" y2="113.13" stroke="#3a3a3a" stroke-width="0.7" />
<line x1="301.36" y1="104.92" x2="303.56" y2="104.92" stroke="#3a3a3a" stroke-width="0.7" />
<line x1="301.36" y1="113.13" x2="303.56" y2="113.13" stroke="#3a3a3a" stroke-width="0.7" />
<rect x="301.66" y="108.22" width="1.6" height="1.6" fill="#444"/>
<line x1="323.42" y1="94.79" x2="323.42" y2="105.74" stroke="#3a3a3a" stroke-width="0.7" />
<line x1="322.32" y1="94.79" x2="324.52" y2="94.79" stroke="#3a3a3a" stroke-width="0.7" />
<line x1="322.32" y1="105.74" x2="324.52" y2="105.74" stroke="#3a3a3a" stroke-width="0.7" />
<rect x="322.62" y="99.46" width="1.6" height="1.6" fill="#444"/>
<line x1="344.38" y1="94.79" x2="344.38" y2="108.48" stroke="#3a3a3a" stroke-width="0.7" />
<line x1="343.28" y1="94.79" x2="345.48" y2="94.79" stroke="#3a3a3a" stroke-width="0.7" />
<line x1="343.28" y1="108.48" x2="345.48" y2="108.48" stroke="#3a3a3a" stroke-width="0.7" />
<rect x="343.58" y="100.83" width="1.6" height="1.6" fill="#444"/>
<line x1="365.34" y1="97.25" x2="365.34" y2="105.47" stroke="#3a3a3a" stroke-width="0.7" />
<line x1="364.24" y1="97.25" x2="366.44" y2="97.25" stroke="#3a3a3a" stroke-width="0.7" />
<line x1="364.24" y1="105.47" x2="366.44" y2="105.47" stroke="#3a3a3a" stroke-width="0.7" />
<rect x="364.54" y="100.56" width="1.6" height="1.6" fill="#444"/>
<line x1="386.3" y1="81.1" x2="386.3" y2="108.48" stroke="#3a3a3a" stroke-width="0.7" />
<line x1="385.2" y1="81.1" x2="387.4" y2="81.1" stroke="#3a3a3a" stroke-width="0.7" />
<line x1="385.2" y1="108.48" x2="387.4" y2="108.48" stroke="#3a3a3a" stroke-width="0.7" />
<rect x="385.5" y="93.99" width="1.6" height="1.6" fill="#444"/>
<line x1="407.26" y1="90.68" x2="407.26" y2="96.16" stroke="#3a3a3a" stroke-width="0.7" />
<line x1="406.16" y1="90.68" x2="408.36" y2="90.68" stroke="#3a3a3a" stroke-width="0.7" />
<line x1="406.16" y1="96.16" x2="408.36" y2="96.16" stroke="#3a3a3a" stroke-width="0.7" />
<rect x="406.46" y="92.62" width="1.6" height="1.6" fill="#444"/>
<line x1="428.22" y1="78.63" x2="428.22" y2="95.06" stroke="#3a3a3a" stroke-width="0.7" />
<line x1="427.12" y1="78.63" x2="429.32" y2="78.63" stroke="#3a3a3a" stroke-width="0.7" />
<line x1="427.12" y1="95.06" x2="429.32" y2="95.06" stroke="#3a3a3a" stroke-width="0.7" />
<rect x="427.42" y="86.05" width="1.6" height="1.6" fill="#444"/>
<rect x="262.5" y="7.5" width="185.3" height="135.1" fill="none" stroke="#000" stroke-width="1.2"/>
<line x1="281.5" y1="142.6" x2="281.5" y2="140.1" stroke="#000" stroke-width="0.9" />
<line x1="323.42" y1="142.6" x2="323.42" y2="140.1" stroke="#000" stroke-width="0.9" />
<line x1="365.34" y1="142.6" x2="365.34" y2="140.1" stroke="#000" stroke-width="0.9" />
<line x1="407.26" y1="142.6" x2="407.26" y2="140.1" stroke="#000" stroke-width="0.9" />
<line x1="264.73" y1="142.6" x2="264.73" y2="141.2" stroke="#000" stroke-width="0.8" />
<line x1="268.92" y1="142.6" x2="268.92" y2="141.2" stroke="#000" stroke-width="0.8" />
<line x1="273.12" y1="142.6" x2="273.12" y2="141.2" stroke="#000" stroke-width="0.8" />
<line x1="277.31" y1="142.6" x2="277.31" y2="141.2" stroke="#000" stroke-width="0.8" />
<line x1="285.69" y1="142.6" x2="285.69" y2="141.2" stroke="#000" stroke-width="0.8" />
<line x1="289.88" y1="142.6" x2="289.88" y2="141.2" stroke="#000" stroke-width="0.8" />
<line x1="294.08" y1="142.6" x2="294.08" y2="141.2" stroke="#000" stroke-width="0.8" />
<line x1="298.27" y1="142.6" x2="298.27" y2="141.2" stroke="#000" stroke-width="0.8" />
<line x1="302.46" y1="142.6" x2="302.46" y2="141.2" stroke="#000" stroke-width="0.8" />
<line x1="306.65" y1="142.6" x2="306.65" y2="141.2" stroke="#000" stroke-width="0.8" />
<line x1="310.84" y1="142.6" x2="310.84" y2="141.2" stroke="#000" stroke-width="0.8" />
<line x1="315.04" y1="142.6" x2="315.04" y2="141.2" stroke="#000" stroke-width="0.8" />
<line x1="319.23" y1="142.6" x2="319.23" y2="141.2" stroke="#000" stroke-width="0.8" />
<line x1="327.61" y1="142.6" x2="327.61" y2="141.2" stroke="#000" stroke-width="0.8" />
<line x1="331.8" y1="142.6" x2="331.8" y2="141.2" stroke="#000" stroke-width="0.8" />
<line x1="336" y1="142.6" x2="336" y2="141.2" stroke="#000" stroke-width="0.8" />
<line x1="340.19" y1="142.6" x2="340.19" y2="141.2" stroke="#000" stroke-width="0.8" />
<line x1="344.38" y1="142.6" x2="344.38" y2="141.2" stroke="#000" stroke-width="0.8" />
<line x1="348.57" y1="142.6" x2="348.57" y2="141.2" stroke="#000" stroke-width="0.8" />
<line x1="352.76" y1="142.6" x2="352.76" y2="141.2" stroke="#000" stroke-width="0.8" />
<line x1="356.96" y1="142.6" x2="356.96" y2="141.2" stroke="#000" stroke-width="0.8" />
<line x1="361.15" y1="142.6" x2="361.15" y2="141.2" stroke="#000" stroke-width="0.8" />
<line x1="369.53" y1="142.6" x2="369.53" y2="141.2" stroke="#000" stroke-width="0.8" />
<line x1="373.72" y1="142.6" x2="373.72" y2="141.2" stroke="#000" stroke-width="0.8" />
<line x1="377.92" y1="142.6" x2="377.92" y2="141.2" stroke="#000" stroke-width="0.8" />
<line x1="382.11" y1="142.6" x2="382.11" y2="141.2" stroke="#000" stroke-width="0.8" />
<line x1="386.3" y1="142.6" x2="386.3" y2="141.2" stroke="#000" stroke-width="0.8" />
<line x1="390.49" y1="142.6" x2="390.49" y2="141.2" stroke="#000" stroke-width="0.8" />
<line x1="394.68" y1="142.6" x2="394.68" y2="141.2" stroke="#000" stroke-width="0.8" />
<line x1="398.88" y1="142.6" x2="398.88" y2="141.2" stroke="#000" stroke-width="0.8" />
<line x1="403.07" y1="142.6" x2="403.07" y2="141.2" stroke="#000" stroke-width="0.8" />
<line x1="411.45" y1="142.6" x2="411.45" y2="141.2" stroke="#000" stroke-width="0.8" />
<line x1="415.64" y1="142.6" x2="415.64" y2="141.2" stroke="#000" stroke-width="0.8" />
<line x1="419.84" y1="142.6" x2="419.84" y2="141.2" stroke="#000" stroke-width="0.8" />
<line x1="424.03" y1="142.6" x2="424.03" y2="141.2" stroke="#000" stroke-width="0.8" />
<line x1="428.22" y1="142.6" x2="428.22" y2="141.2" stroke="#000" stroke-width="0.8" />
<line x1="432.41" y1="142.6" x2="432.41" y2="141.2" stroke="#000" stroke-width="0.8" />
<line x1="436.6" y1="142.6" x2="436.6" y2="141.2" stroke="#000" stroke-width="0.8" />
<line x1="440.8" y1="142.6" x2="440.8" y2="141.2" stroke="#000" stroke-width="0.8" />
<line x1="262.5" y1="137.5" x2="265" y2="137.5" stroke="#000" stroke-width="0.9" />
<line x1="262.5" y1="110.12" x2="265" y2="110.12" stroke="#000" stroke-width="0.9" />
<line x1="262.5" y1="82.74" x2="265" y2="82.74" stroke="#000" stroke-width="0.9" />
<line x1="262.5" y1="55.36" x2="265" y2="55.36" stroke="#000" stroke-width="0.9" />
<line x1="262.5" y1="27.98" x2="265" y2="27.98" stroke="#000" stroke-width="0.9" />
<line x1="262.5" y1="132.02" x2="263.9" y2="132.02" stroke="#000" stroke-width="0.8" />
<line x1="262.5" y1="126.55" x2="263.9" y2="126.55" stroke="#000" stroke-width="0.8" />
<line x1="262.5" y1="121.07" x2="263.9" y2="121.07" stroke="#000" stroke-width="0.8" />
<line x1="262.5" y1="115.6" x2="263.9" y2="115.6" stroke="#000" stroke-width="0.8" />
<line x1="262.5" y1="104.64" x2="263.9" y2="104.64" stroke="#000" stroke-width="0.8" />
<line x1="262.5" y1="99.17" x2="263.9" y2="99.17" stroke="#000" stroke-width="0.8" />
<line x1="262.5" y1="93.69" x2="263.9" y2="93.69" stroke="#000" stroke-width="0.8" />
<line x1="262.5" y1="88.22" x2="263.9" y2="88.22" stroke="#000" stroke-width="0.8" />
<line x1="262.5" y1="77.26" x2="263.9" y2="77.26" stroke="#000" stroke-width="0.8" />
<line x1="262.5" y1="71.79" x2="263.9" y2="71.79" stroke="#000" stroke-width="0.8" />
<line x1="262.5" y1="66.31" x2="263.9" y2="66.31" stroke="#000" stroke-width="0.8" />
<line x1="262.5" y1="60.84" x2="263.9" y2="60.84" stroke="#000" stroke-width="0.8" />
<line x1="262.5" y1="49.88" x2="263.9" y2="49.88" stroke="#000" stroke-width="0.8" />
<line x1="262.5" y1="44.41" x2="263.9" y2="44.41" stroke="#000" stroke-width="0.8" />
<line x1="262.5" y1="38.93" x2="263.9" y2="38.93" stroke="#000" stroke-width="0.8" />
<line x1="262.5" y1="33.46" x2="263.9" y2="33.46" stroke="#000" stroke-width="0.8" />
<line x1="262.5" y1="22.5" x2="263.9" y2="22.5" stroke="#000" stroke-width="0.8" />
<line x1="262.5" y1="17.03" x2="263.9" y2="17.03" stroke="#000" stroke-width="0.8" />
<line x1="262.5" y1="11.55" x2="263.9" y2="11.55" stroke="#000" stroke-width="0.8" />
<text x="281.5" y="153.8" font-size="10" text-anchor="middle" fill="#000" color="#000" font-weight="normal" >100</text>
<text x="323.42" y="153.8" font-size="10" text-anchor="middle" fill="#000" color="#000" font-weight="normal" >120</text>
<text x="365.34" y="153.8" font-size="10" text-anchor="middle" fill="#000" color="#000" font-weight="normal" >140</text>
<text x="407.26" y="153.8" font-size="10" text-anchor="middle" fill="#000" color="#000" font-weight="normal" >160</text>
<text x="259" y="140.6" font-size="10" text-anchor="end" fill="#000" color="#000" font-weight="normal" >90</text>
<text x="259" y="113.22" font-size="10" text-anchor="end" fill="#000" color="#000" font-weight="normal" >100</text>
<text x="259" y="85.84" font-size="10" text-anchor="end" fill="#000" color="#000" font-weight="normal" >110</text>
<text x="259" y="58.46" font-size="10" text-anchor="end" fill="#000" color="#000" font-weight="normal" >120</text>
<text x="259" y="31.08" font-size="10" text-anchor="end" fill="#000" color="#000" font-weight="normal" >130</text>
<text x="354.3" y="170.6" font-size="11.5" text-anchor="middle" fill="#000" color="#000" font-weight="normal" >Nozzle width (µm)</text>
<text x="0" y="0" font-size="11.2" text-anchor="middle" transform="translate(237,74.5) rotate(-90)">Droplet diameter (µm)</text>
<text x="246.3" y="17.7" font-size="14.5" text-anchor="start" fill="#000" color="#000" font-weight="bold" >B</text>
<line x1="267" y1="15.5" x2="283.2" y2="15.5" stroke="#4650dc" stroke-width="1.05" />
<text x="286.4" y="18" font-size="8.3" text-anchor="start" fill="#000" color="#000" font-weight="normal" >2% PFDTES</text>
<line x1="267" y1="25.4" x2="283.2" y2="25.4" stroke="#f5a5ae" stroke-width="1.05" />
<text x="286.4" y="27.9" font-size="8.3" text-anchor="start" fill="#000" color="#000" font-weight="normal" >120°C 48 hr</text>
<line x1="267" y1="34.5" x2="283.2" y2="34.5" stroke="#62e35e" stroke-width="1.05" />
<text x="286.4" y="37" font-size="8.3" text-anchor="start" fill="#000" color="#000" font-weight="normal" >120°C 48 hr + 2% PFDTES</text>
<circle cx="302.5" cy="60.5" r="6.7" fill="none" stroke="#3a80d4" stroke-width="1.35" stroke-dasharray="3,1.5"/>
<polyline points="278.3,49 292.3,49 299.9,54.7" fill="none" stroke="#2f6fc0" stroke-width="1.55"/>
<text x="267.3" y="60.2" font-size="12" text-anchor="start" fill="#2f6fc0" color="#2f6fc0" font-weight="normal" >f</text>
<circle cx="302.3" cy="81.6" r="6.7" fill="none" stroke="#3a80d4" stroke-width="1.35" stroke-dasharray="3,1.5"/>
<polyline points="308.5,83.1 316.5,91.7 328.5,91.7" fill="none" stroke="#2f6fc0" stroke-width="1.55"/>
<text x="333" y="96" font-size="12" text-anchor="start" fill="#2f6fc0" color="#2f6fc0" font-weight="normal" >e</text>
<circle cx="302.5" cy="108.5" r="6.7" fill="none" stroke="#3a80d4" stroke-width="1.35" stroke-dasharray="3,1.5"/>
<polyline points="308.5,112.2 316.5,121.5 327.9,121.5" fill="none" stroke="#2f6fc0" stroke-width="1.55"/>
<text x="332" y="126.2" font-size="12" text-anchor="start" fill="#2f6fc0" color="#2f6fc0" font-weight="normal" >d</text>
<text x="371.3" y="134.2" font-size="11.4" text-anchor="middle" fill="#000" color="#000" font-weight="normal" >h = 28 µm</text>
<line x1="37.8" y1="285.5" x2="221.7" y2="285.5" stroke="#a9a9a9" stroke-width="0.9" />
<line x1="37.8" y1="258.5" x2="221.7" y2="258.5" stroke="#a9a9a9" stroke-width="0.9" />
<line x1="37.8" y1="231.5" x2="221.7" y2="231.5" stroke="#a9a9a9" stroke-width="0.9" />
<line x1="37.8" y1="204.5" x2="221.7" y2="204.5" stroke="#a9a9a9" stroke-width="0.9" />
<rect x="62.5" y="202" width="94.5" height="10" fill="#fff"/>
<line x1="45.8" y1="249.86" x2="213.56" y2="212.87" stroke="#4650dc" stroke-width="1.1" />
<line x1="45.8" y1="268.76" x2="213.56" y2="241.22" stroke="#f5a5ae" stroke-width="1.1" />
<line x1="45.8" y1="286.31" x2="213.56" y2="260.12" stroke="#62e35e" stroke-width="1.1" />
<line x1="45.8" y1="245" x2="45.8" y2="255.8" stroke="#3a3a3a" stroke-width="0.7" />
<line x1="44.7" y1="245" x2="46.9" y2="245" stroke="#3a3a3a" stroke-width="0.7" />
<line x1="44.7" y1="255.8" x2="46.9" y2="255.8" stroke="#3a3a3a" stroke-width="0.7" />
<rect x="45" y="249.6" width="1.6" height="1.6" fill="#444"/>
<line x1="66.77" y1="239.33" x2="66.77" y2="252.83" stroke="#3a3a3a" stroke-width="0.7" />
<line x1="65.67" y1="239.33" x2="67.87" y2="239.33" stroke="#3a3a3a" stroke-width="0.7" />
<line x1="65.67" y1="252.83" x2="67.87" y2="252.83" stroke="#3a3a3a" stroke-width="0.7" />
<rect x="65.97" y="245.28" width="1.6" height="1.6" fill="#444"/>
<line x1="87.74" y1="232.31" x2="87.74" y2="251.21" stroke="#3a3a3a" stroke-width="0.7" />
<line x1="86.64" y1="232.31" x2="88.84" y2="232.31" stroke="#3a3a3a" stroke-width="0.7" />
<line x1="86.64" y1="251.21" x2="88.84" y2="251.21" stroke="#3a3a3a" stroke-width="0.7" />
<rect x="86.94" y="240.96" width="1.6" height="1.6" fill="#444"/>
<line x1="108.71" y1="231.23" x2="108.71" y2="242.03" stroke="#3a3a3a" stroke-width="0.7" />
<line x1="107.61" y1="231.23" x2="109.81" y2="231.23" stroke="#3a3a3a" stroke-width="0.7" />
<line x1="107.61" y1="242.03" x2="109.81" y2="242.03" stroke="#3a3a3a" stroke-width="0.7" />
<rect x="107.91" y="235.83" width="1.6" height="1.6" fill="#444"/>
<line x1="129.68" y1="226.37" x2="129.68" y2="231.77" stroke="#3a3a3a" stroke-width="0.7" />
<line x1="128.58" y1="226.37" x2="130.78" y2="226.37" stroke="#3a3a3a" stroke-width="0.7" />
<line x1="128.58" y1="231.77" x2="130.78" y2="231.77" stroke="#3a3a3a" stroke-width="0.7" />
<rect x="128.88" y="228.27" width="1.6" height="1.6" fill="#444"/>
<line x1="150.65" y1="223.67" x2="150.65" y2="231.77" stroke="#3a3a3a" stroke-width="0.7" />
<line x1="149.55" y1="223.67" x2="151.75" y2="223.67" stroke="#3a3a3a" stroke-width="0.7" />
<line x1="149.55" y1="231.77" x2="151.75" y2="231.77" stroke="#3a3a3a" stroke-width="0.7" />
<rect x="149.85" y="226.92" width="1.6" height="1.6" fill="#444"/>
<line x1="171.62" y1="212.6" x2="171.62" y2="220.7" stroke="#3a3a3a" stroke-width="0.7" />
<line x1="170.52" y1="212.6" x2="172.72" y2="212.6" stroke="#3a3a3a" stroke-width="0.7" />
<line x1="170.52" y1="220.7" x2="172.72" y2="220.7" stroke="#3a3a3a" stroke-width="0.7" />
<rect x="170.82" y="215.85" width="1.6" height="1.6" fill="#444"/>
<line x1="192.59" y1="216.11" x2="192.59" y2="221.51" stroke="#3a3a3a" stroke-width="0.7" />
<line x1="191.49" y1="216.11" x2="193.69" y2="216.11" stroke="#3a3a3a" stroke-width="0.7" />
<line x1="191.49" y1="221.51" x2="193.69" y2="221.51" stroke="#3a3a3a" stroke-width="0.7" />
<rect x="191.79" y="218.01" width="1.6" height="1.6" fill="#444"/>
<line x1="213.56" y1="211.25" x2="213.56" y2="219.35" stroke="#3a3a3a" stroke-width="0.7" />
<line x1="212.46" y1="211.25" x2="214.66" y2="211.25" stroke="#3a3a3a" stroke-width="0.7" />
<line x1="212.46" y1="219.35" x2="214.66" y2="219.35" stroke="#3a3a3a" stroke-width="0.7" />
<rect x="212.76" y="214.5" width="1.6" height="1.6" fill="#444"/>
<line x1="45.8" y1="266.87" x2="45.8" y2="277.67" stroke="#3a3a3a" stroke-width="0.7" />
<line x1="44.7" y1="266.87" x2="46.9" y2="266.87" stroke="#3a3a3a" stroke-width="0.7" />
<line x1="44.7" y1="277.67" x2="46.9" y2="277.67" stroke="#3a3a3a" stroke-width="0.7" />
<rect x="45" y="271.47" width="1.6" height="1.6" fill="#444"/>
<line x1="66.77" y1="255.8" x2="66.77" y2="272" stroke="#3a3a3a" stroke-width="0.7" />
<line x1="65.67" y1="255.8" x2="67.87" y2="255.8" stroke="#3a3a3a" stroke-width="0.7" />
<line x1="65.67" y1="272" x2="67.87" y2="272" stroke="#3a3a3a" stroke-width="0.7" />
<rect x="65.97" y="263.1" width="1.6" height="1.6" fill="#444"/>
<line x1="87.74" y1="249.59" x2="87.74" y2="268.49" stroke="#3a3a3a" stroke-width="0.7" />
<line x1="86.64" y1="249.59" x2="88.84" y2="249.59" stroke="#3a3a3a" stroke-width="0.7" />
<line x1="86.64" y1="268.49" x2="88.84" y2="268.49" stroke="#3a3a3a" stroke-width="0.7" />
<rect x="86.94" y="258.24" width="1.6" height="1.6" fill="#444"/>
<line x1="108.71" y1="252.02" x2="108.71" y2="262.82" stroke="#3a3a3a" stroke-width="0.7" />
<line x1="107.61" y1="252.02" x2="109.81" y2="252.02" stroke="#3a3a3a" stroke-width="0.7" />
<line x1="107.61" y1="262.82" x2="109.81" y2="262.82" stroke="#3a3a3a" stroke-width="0.7" />
<rect x="107.91" y="256.62" width="1.6" height="1.6" fill="#444"/>
<line x1="129.68" y1="252.56" x2="129.68" y2="257.96" stroke="#3a3a3a" stroke-width="0.7" />
<line x1="128.58" y1="252.56" x2="130.78" y2="252.56" stroke="#3a3a3a" stroke-width="0.7" />
<line x1="128.58" y1="257.96" x2="130.78" y2="257.96" stroke="#3a3a3a" stroke-width="0.7" />
<rect x="128.88" y="254.46" width="1.6" height="1.6" fill="#444"/>
<line x1="150.65" y1="245.81" x2="150.65" y2="256.61" stroke="#3a3a3a" stroke-width="0.7" />
<line x1="149.55" y1="245.81" x2="151.75" y2="245.81" stroke="#3a3a3a" stroke-width="0.7" />
<line x1="149.55" y1="256.61" x2="151.75" y2="256.61" stroke="#3a3a3a" stroke-width="0.7" />
<rect x="149.85" y="250.41" width="1.6" height="1.6" fill="#444"/>
<line x1="171.62" y1="248.51" x2="171.62" y2="253.91" stroke="#3a3a3a" stroke-width="0.7" />
<line x1="170.52" y1="248.51" x2="172.72" y2="248.51" stroke="#3a3a3a" stroke-width="0.7" />
<line x1="170.52" y1="253.91" x2="172.72" y2="253.91" stroke="#3a3a3a" stroke-width="0.7" />
<rect x="170.82" y="250.41" width="1.6" height="1.6" fill="#444"/>
<line x1="192.59" y1="236.9" x2="192.59" y2="250.4" stroke="#3a3a3a" stroke-width="0.7" />
<line x1="191.49" y1="236.9" x2="193.69" y2="236.9" stroke="#3a3a3a" stroke-width="0.7" />
<line x1="191.49" y1="250.4" x2="193.69" y2="250.4" stroke="#3a3a3a" stroke-width="0.7" />
<rect x="191.79" y="242.85" width="1.6" height="1.6" fill="#444"/>
<line x1="213.56" y1="233.39" x2="213.56" y2="241.49" stroke="#3a3a3a" stroke-width="0.7" />
<line x1="212.46" y1="233.39" x2="214.66" y2="233.39" stroke="#3a3a3a" stroke-width="0.7" />
<line x1="212.46" y1="241.49" x2="214.66" y2="241.49" stroke="#3a3a3a" stroke-width="0.7" />
<rect x="212.76" y="236.64" width="1.6" height="1.6" fill="#444"/>
<line x1="45.8" y1="283.07" x2="45.8" y2="291.17" stroke="#3a3a3a" stroke-width="0.7" />
<line x1="44.7" y1="283.07" x2="46.9" y2="283.07" stroke="#3a3a3a" stroke-width="0.7" />
<line x1="44.7" y1="291.17" x2="46.9" y2="291.17" stroke="#3a3a3a" stroke-width="0.7" />
<rect x="45" y="286.32" width="1.6" height="1.6" fill="#444"/>
<line x1="66.77" y1="281.99" x2="66.77" y2="290.09" stroke="#3a3a3a" stroke-width="0.7" />
<line x1="65.67" y1="281.99" x2="67.87" y2="281.99" stroke="#3a3a3a" stroke-width="0.7" />
<line x1="65.67" y1="290.09" x2="67.87" y2="290.09" stroke="#3a3a3a" stroke-width="0.7" />
<rect x="65.97" y="285.24" width="1.6" height="1.6" fill="#444"/>
<line x1="87.74" y1="278.75" x2="87.74" y2="284.15" stroke="#3a3a3a" stroke-width="0.7" />
<line x1="86.64" y1="278.75" x2="88.84" y2="278.75" stroke="#3a3a3a" stroke-width="0.7" />
<line x1="86.64" y1="284.15" x2="88.84" y2="284.15" stroke="#3a3a3a" stroke-width="0.7" />
<rect x="86.94" y="280.65" width="1.6" height="1.6" fill="#444"/>
<line x1="108.71" y1="266.87" x2="108.71" y2="283.07" stroke="#3a3a3a" stroke-width="0.7" />
<line x1="107.61" y1="266.87" x2="109.81" y2="266.87" stroke="#3a3a3a" stroke-width="0.7" />
<line x1="107.61" y1="283.07" x2="109.81" y2="283.07" stroke="#3a3a3a" stroke-width="0.7" />
<rect x="107.91" y="274.17" width="1.6" height="1.6" fill="#444"/>
<line x1="129.68" y1="267.14" x2="129.68" y2="275.24" stroke="#3a3a3a" stroke-width="0.7" />
<line x1="128.58" y1="267.14" x2="130.78" y2="267.14" stroke="#3a3a3a" stroke-width="0.7" />
<line x1="128.58" y1="275.24" x2="130.78" y2="275.24" stroke="#3a3a3a" stroke-width="0.7" />
<rect x="128.88" y="270.39" width="1.6" height="1.6" fill="#444"/>
<line x1="150.65" y1="267.41" x2="150.65" y2="272.81" stroke="#3a3a3a" stroke-width="0.7" />
<line x1="149.55" y1="267.41" x2="151.75" y2="267.41" stroke="#3a3a3a" stroke-width="0.7" />
<line x1="149.55" y1="272.81" x2="151.75" y2="272.81" stroke="#3a3a3a" stroke-width="0.7" />
<rect x="149.85" y="269.31" width="1.6" height="1.6" fill="#444"/>
<line x1="171.62" y1="263.63" x2="171.62" y2="271.73" stroke="#3a3a3a" stroke-width="0.7" />
<line x1="170.52" y1="263.63" x2="172.72" y2="263.63" stroke="#3a3a3a" stroke-width="0.7" />
<line x1="170.52" y1="271.73" x2="172.72" y2="271.73" stroke="#3a3a3a" stroke-width="0.7" />
<rect x="170.82" y="266.88" width="1.6" height="1.6" fill="#444"/>
<line x1="192.59" y1="259.85" x2="192.59" y2="270.65" stroke="#3a3a3a" stroke-width="0.7" />
<line x1="191.49" y1="259.85" x2="193.69" y2="259.85" stroke="#3a3a3a" stroke-width="0.7" />
<line x1="191.49" y1="270.65" x2="193.69" y2="270.65" stroke="#3a3a3a" stroke-width="0.7" />
<rect x="191.79" y="264.45" width="1.6" height="1.6" fill="#444"/>
<line x1="213.56" y1="258.5" x2="213.56" y2="266.6" stroke="#3a3a3a" stroke-width="0.7" />
<line x1="212.46" y1="258.5" x2="214.66" y2="258.5" stroke="#3a3a3a" stroke-width="0.7" />
<line x1="212.46" y1="266.6" x2="214.66" y2="266.6" stroke="#3a3a3a" stroke-width="0.7" />
<rect x="212.76" y="261.75" width="1.6" height="1.6" fill="#444"/>
<rect x="37.8" y="177.5" width="183.9" height="134.9" fill="none" stroke="#000" stroke-width="1.2"/>
<line x1="45.8" y1="312.4" x2="45.8" y2="309.9" stroke="#000" stroke-width="0.9" />
<line x1="87.74" y1="312.4" x2="87.74" y2="309.9" stroke="#000" stroke-width="0.9" />
<line x1="129.68" y1="312.4" x2="129.68" y2="309.9" stroke="#000" stroke-width="0.9" />
<line x1="171.62" y1="312.4" x2="171.62" y2="309.9" stroke="#000" stroke-width="0.9" />
<line x1="213.56" y1="312.4" x2="213.56" y2="309.9" stroke="#000" stroke-width="0.9" />
<line x1="37.41" y1="312.4" x2="37.41" y2="311" stroke="#000" stroke-width="0.8" />
<line x1="41.61" y1="312.4" x2="41.61" y2="311" stroke="#000" stroke-width="0.8" />
<line x1="49.99" y1="312.4" x2="49.99" y2="311" stroke="#000" stroke-width="0.8" />
<line x1="54.19" y1="312.4" x2="54.19" y2="311" stroke="#000" stroke-width="0.8" />
<line x1="58.38" y1="312.4" x2="58.38" y2="311" stroke="#000" stroke-width="0.8" />
<line x1="62.58" y1="312.4" x2="62.58" y2="311" stroke="#000" stroke-width="0.8" />
<line x1="66.77" y1="312.4" x2="66.77" y2="311" stroke="#000" stroke-width="0.8" />
<line x1="70.96" y1="312.4" x2="70.96" y2="311" stroke="#000" stroke-width="0.8" />
<line x1="75.16" y1="312.4" x2="75.16" y2="311" stroke="#000" stroke-width="0.8" />
<line x1="79.35" y1="312.4" x2="79.35" y2="311" stroke="#000" stroke-width="0.8" />
<line x1="83.55" y1="312.4" x2="83.55" y2="311" stroke="#000" stroke-width="0.8" />
<line x1="91.93" y1="312.4" x2="91.93" y2="311" stroke="#000" stroke-width="0.8" />
<line x1="96.13" y1="312.4" x2="96.13" y2="311" stroke="#000" stroke-width="0.8" />
<line x1="100.32" y1="312.4" x2="100.32" y2="311" stroke="#000" stroke-width="0.8" />
<line x1="104.52" y1="312.4" x2="104.52" y2="311" stroke="#000" stroke-width="0.8" />
<line x1="108.71" y1="312.4" x2="108.71" y2="311" stroke="#000" stroke-width="0.8" />
<line x1="112.9" y1="312.4" x2="112.9" y2="311" stroke="#000" stroke-width="0.8" />
<line x1="117.1" y1="312.4" x2="117.1" y2="311" stroke="#000" stroke-width="0.8" />
<line x1="121.29" y1="312.4" x2="121.29" y2="311" stroke="#000" stroke-width="0.8" />
<line x1="125.49" y1="312.4" x2="125.49" y2="311" stroke="#000" stroke-width="0.8" />
<line x1="133.87" y1="312.4" x2="133.87" y2="311" stroke="#000" stroke-width="0.8" />
<line x1="138.07" y1="312.4" x2="138.07" y2="311" stroke="#000" stroke-width="0.8" />
<line x1="142.26" y1="312.4" x2="142.26" y2="311" stroke="#000" stroke-width="0.8" />
<line x1="146.46" y1="312.4" x2="146.46" y2="311" stroke="#000" stroke-width="0.8" />
<line x1="150.65" y1="312.4" x2="150.65" y2="311" stroke="#000" stroke-width="0.8" />
<line x1="154.84" y1="312.4" x2="154.84" y2="311" stroke="#000" stroke-width="0.8" />
<line x1="159.04" y1="312.4" x2="159.04" y2="311" stroke="#000" stroke-width="0.8" />
<line x1="163.23" y1="312.4" x2="163.23" y2="311" stroke="#000" stroke-width="0.8" />
<line x1="167.43" y1="312.4" x2="167.43" y2="311" stroke="#000" stroke-width="0.8" />
<line x1="175.81" y1="312.4" x2="175.81" y2="311" stroke="#000" stroke-width="0.8" />
<line x1="180.01" y1="312.4" x2="180.01" y2="311" stroke="#000" stroke-width="0.8" />
<line x1="184.2" y1="312.4" x2="184.2" y2="311" stroke="#000" stroke-width="0.8" />
<line x1="188.4" y1="312.4" x2="188.4" y2="311" stroke="#000" stroke-width="0.8" />
<line x1="192.59" y1="312.4" x2="192.59" y2="311" stroke="#000" stroke-width="0.8" />
<line x1="196.78" y1="312.4" x2="196.78" y2="311" stroke="#000" stroke-width="0.8" />
<line x1="200.98" y1="312.4" x2="200.98" y2="311" stroke="#000" stroke-width="0.8" />
<line x1="205.17" y1="312.4" x2="205.17" y2="311" stroke="#000" stroke-width="0.8" />
<line x1="209.37" y1="312.4" x2="209.37" y2="311" stroke="#000" stroke-width="0.8" />
<line x1="217.75" y1="312.4" x2="217.75" y2="311" stroke="#000" stroke-width="0.8" />
<line x1="221.95" y1="312.4" x2="221.95" y2="311" stroke="#000" stroke-width="0.8" />
<line x1="37.8" y1="312.5" x2="40.3" y2="312.5" stroke="#000" stroke-width="0.9" />
<line x1="37.8" y1="285.5" x2="40.3" y2="285.5" stroke="#000" stroke-width="0.9" />
<line x1="37.8" y1="258.5" x2="40.3" y2="258.5" stroke="#000" stroke-width="0.9" />
<line x1="37.8" y1="231.5" x2="40.3" y2="231.5" stroke="#000" stroke-width="0.9" />
<line x1="37.8" y1="204.5" x2="40.3" y2="204.5" stroke="#000" stroke-width="0.9" />
<line x1="37.8" y1="177.5" x2="40.3" y2="177.5" stroke="#000" stroke-width="0.9" />
<line x1="37.8" y1="307.1" x2="39.2" y2="307.1" stroke="#000" stroke-width="0.8" />
<line x1="37.8" y1="301.7" x2="39.2" y2="301.7" stroke="#000" stroke-width="0.8" />
<line x1="37.8" y1="296.3" x2="39.2" y2="296.3" stroke="#000" stroke-width="0.8" />
<line x1="37.8" y1="290.9" x2="39.2" y2="290.9" stroke="#000" stroke-width="0.8" />
<line x1="37.8" y1="280.1" x2="39.2" y2="280.1" stroke="#000" stroke-width="0.8" />
<line x1="37.8" y1="274.7" x2="39.2" y2="274.7" stroke="#000" stroke-width="0.8" />
<line x1="37.8" y1="269.3" x2="39.2" y2="269.3" stroke="#000" stroke-width="0.8" />
<line x1="37.8" y1="263.9" x2="39.2" y2="263.9" stroke="#000" stroke-width="0.8" />
<line x1="37.8" y1="253.1" x2="39.2" y2="253.1" stroke="#000" stroke-width="0.8" />
<line x1="37.8" y1="247.7" x2="39.2" y2="247.7" stroke="#000" stroke-width="0.8" />
<line x1="37.8" y1="242.3" x2="39.2" y2="242.3" stroke="#000" stroke-width="0.8" />
<line x1="37.8" y1="236.9" x2="39.2" y2="236.9" stroke="#000" stroke-width="0.8" />
<line x1="37.8" y1="226.1" x2="39.2" y2="226.1" stroke="#000" stroke-width="0.8" />
<line x1="37.8" y1="220.7" x2="39.2" y2="220.7" stroke="#000" stroke-width="0.8" />
<line x1="37.8" y1="215.3" x2="39.2" y2="215.3" stroke="#000" stroke-width="0.8" />
<line x1="37.8" y1="209.9" x2="39.2" y2="209.9" stroke="#000" stroke-width="0.8" />
<line x1="37.8" y1="199.1" x2="39.2" y2="199.1" stroke="#000" stroke-width="0.8" />
<line x1="37.8" y1="193.7" x2="39.2" y2="193.7" stroke="#000" stroke-width="0.8" />
<line x1="37.8" y1="188.3" x2="39.2" y2="188.3" stroke="#000" stroke-width="0.8" />
<line x1="37.8" y1="182.9" x2="39.2" y2="182.9" stroke="#000" stroke-width="0.8" />
<text x="45.8" y="323.5" font-size="10" text-anchor="middle" fill="#000" color="#000" font-weight="normal" >100</text>
<text x="87.74" y="323.5" font-size="10" text-anchor="middle" fill="#000" color="#000" font-weight="normal" >120</text>
<text x="129.68" y="323.5" font-size="10" text-anchor="middle" fill="#000" color="#000" font-weight="normal" >140</text>
<text x="171.62" y="323.5" font-size="10" text-anchor="middle" fill="#000" color="#000" font-weight="normal" >160</text>
<text x="213.56" y="323.5" font-size="10" text-anchor="middle" fill="#000" color="#000" font-weight="normal" >180</text>
<text x="34.5" y="315.6" font-size="10" text-anchor="end" fill="#000" color="#000" font-weight="normal" >120</text>
<text x="34.5" y="288.6" font-size="10" text-anchor="end" fill="#000" color="#000" font-weight="normal" >130</text>
<text x="34.5" y="261.6" font-size="10" text-anchor="end" fill="#000" color="#000" font-weight="normal" >140</text>
<text x="34.5" y="234.6" font-size="10" text-anchor="end" fill="#000" color="#000" font-weight="normal" >150</text>
<text x="34.5" y="207.6" font-size="10" text-anchor="end" fill="#000" color="#000" font-weight="normal" >160</text>
<text x="34.5" y="180.6" font-size="10" text-anchor="end" fill="#000" color="#000" font-weight="normal" >170</text>
<text x="129.9" y="337.4" font-size="11.5" text-anchor="middle" fill="#000" color="#000" font-weight="normal" >Nozzle width (µm)</text>
<text x="0" y="0" font-size="11.2" text-anchor="middle" transform="translate(12.8,249.3) rotate(-90)">Droplet diameter (µm)</text>
<text x="7.4" y="178.6" font-size="14.5" text-anchor="start" fill="#000" color="#000" font-weight="bold" >C</text>
<line x1="44.2" y1="188.3" x2="61.4" y2="188.3" stroke="#4650dc" stroke-width="1.05" />
<text x="64.2" y="190.8" font-size="8.3" text-anchor="start" fill="#000" color="#000" font-weight="normal" >2% PFDTES</text>
<line x1="44.2" y1="198.4" x2="61.4" y2="198.4" stroke="#f5a5ae" stroke-width="1.05" />
<text x="64.2" y="200.9" font-size="8.3" text-anchor="start" fill="#000" color="#000" font-weight="normal" >120°C 48 hr</text>
<line x1="44.2" y1="208.1" x2="61.4" y2="208.1" stroke="#62e35e" stroke-width="1.05" />
<text x="64.2" y="210.6" font-size="8.3" text-anchor="start" fill="#000" color="#000" font-weight="normal" >120°C 48 hr + 2% PFDTES</text>
<circle cx="67" cy="285.8" r="6.7" fill="none" stroke="#3a80d4" stroke-width="1.35" stroke-dasharray="3,1.5"/>
<polyline points="72.5,291.3 78.8,300 91.3,300" fill="none" stroke="#2f6fc0" stroke-width="1.55"/>
<text x="97" y="304.8" font-size="10.6" text-anchor="start" fill="#2f6fc0" color="#2f6fc0" font-weight="normal" >g</text>
<circle cx="213.5" cy="215.8" r="6.7" fill="none" stroke="#3a80d4" stroke-width="1.35" stroke-dasharray="3,1.5"/>
<polyline points="194.8,199.3 204.8,199.3 211,209.5" fill="none" stroke="#2f6fc0" stroke-width="1.55"/>
<text x="183" y="210.5" font-size="12" text-anchor="start" fill="#2f6fc0" color="#2f6fc0" font-weight="normal" >h</text>
<text x="141.8" y="310.4" font-size="11.4" text-anchor="middle" fill="#000" color="#000" font-weight="normal" >h = 38 µm</text>
<line x1="262.5" y1="285.3" x2="450.4" y2="285.3" stroke="#bdbdbd" stroke-width="0.9" />
<line x1="262.5" y1="263.1" x2="450.4" y2="263.1" stroke="#bdbdbd" stroke-width="0.9" />
<line x1="262.5" y1="240.9" x2="450.4" y2="240.9" stroke="#bdbdbd" stroke-width="0.9" />
<line x1="262.5" y1="218.7" x2="450.4" y2="218.7" stroke="#bdbdbd" stroke-width="0.9" />
<line x1="262.5" y1="196.5" x2="450.4" y2="196.5" stroke="#bdbdbd" stroke-width="0.9" />
<rect x="262.5" y="178.2" width="187.9" height="129.3" fill="none" stroke="#444" stroke-width="1.1"/>
<line x1="262.5" y1="178.2" x2="262.5" y2="307.5" stroke="#000" stroke-width="1.3" />
<line x1="262.5" y1="307.5" x2="450.4" y2="307.5" stroke="#000" stroke-width="1.3" />
<line x1="262.5" y1="307.5" x2="262.5" y2="305" stroke="#000" stroke-width="0.8" />
<line x1="270.01" y1="307.5" x2="270.01" y2="306" stroke="#000" stroke-width="0.8" />
<line x1="277.52" y1="307.5" x2="277.52" y2="306" stroke="#000" stroke-width="0.8" />
<line x1="285.03" y1="307.5" x2="285.03" y2="306" stroke="#000" stroke-width="0.8" />
<line x1="292.54" y1="307.5" x2="292.54" y2="306" stroke="#000" stroke-width="0.8" />
<line x1="300.05" y1="307.5" x2="300.05" y2="305" stroke="#000" stroke-width="0.8" />
<line x1="307.56" y1="307.5" x2="307.56" y2="306" stroke="#000" stroke-width="0.8" />
<line x1="315.07" y1="307.5" x2="315.07" y2="306" stroke="#000" stroke-width="0.8" />
<line x1="322.58" y1="307.5" x2="322.58" y2="306" stroke="#000" stroke-width="0.8" />
<line x1="330.09" y1="307.5" x2="330.09" y2="306" stroke="#000" stroke-width="0.8" />
<line x1="337.6" y1="307.5" x2="337.6" y2="305" stroke="#000" stroke-width="0.8" />
<line x1="345.11" y1="307.5" x2="345.11" y2="306" stroke="#000" stroke-width="0.8" />
<line x1="352.62" y1="307.5" x2="352.62" y2="306" stroke="#000" stroke-width="0.8" />
<line x1="360.13" y1="307.5" x2="360.13" y2="306" stroke="#000" stroke-width="0.8" />
<line x1="367.64" y1="307.5" x2="367.64" y2="306" stroke="#000" stroke-width="0.8" />
<line x1="375.15" y1="307.5" x2="375.15" y2="305" stroke="#000" stroke-width="0.8" />
<line x1="382.66" y1="307.5" x2="382.66" y2="306" stroke="#000" stroke-width="0.8" />
<line x1="390.17" y1="307.5" x2="390.17" y2="306" stroke="#000" stroke-width="0.8" />
<line x1="397.68" y1="307.5" x2="397.68" y2="306" stroke="#000" stroke-width="0.8" />
<line x1="405.19" y1="307.5" x2="405.19" y2="306" stroke="#000" stroke-width="0.8" />
<line x1="412.7" y1="307.5" x2="412.7" y2="305" stroke="#000" stroke-width="0.8" />
<line x1="420.21" y1="307.5" x2="420.21" y2="306" stroke="#000" stroke-width="0.8" />
<line x1="427.72" y1="307.5" x2="427.72" y2="306" stroke="#000" stroke-width="0.8" />
<line x1="435.23" y1="307.5" x2="435.23" y2="306" stroke="#000" stroke-width="0.8" />
<line x1="442.74" y1="307.5" x2="442.74" y2="306" stroke="#000" stroke-width="0.8" />
<line x1="450.25" y1="307.5" x2="450.25" y2="305" stroke="#000" stroke-width="0.8" />
<line x1="262.5" y1="307.5" x2="265" y2="307.5" stroke="#000" stroke-width="0.8" />
<line x1="262.5" y1="303.06" x2="264" y2="303.06" stroke="#000" stroke-width="0.8" />
<line x1="262.5" y1="298.62" x2="264" y2="298.62" stroke="#000" stroke-width="0.8" />
<line x1="262.5" y1="294.18" x2="264" y2="294.18" stroke="#000" stroke-width="0.8" />
<line x1="262.5" y1="289.74" x2="264" y2="289.74" stroke="#000" stroke-width="0.8" />
<line x1="262.5" y1="285.3" x2="265" y2="285.3" stroke="#000" stroke-width="0.8" />
<line x1="262.5" y1="280.86" x2="264" y2="280.86" stroke="#000" stroke-width="0.8" />
<line x1="262.5" y1="276.42" x2="264" y2="276.42" stroke="#000" stroke-width="0.8" />
<line x1="262.5" y1="271.98" x2="264" y2="271.98" stroke="#000" stroke-width="0.8" />
<line x1="262.5" y1="267.54" x2="264" y2="267.54" stroke="#000" stroke-width="0.8" />
<line x1="262.5" y1="263.1" x2="265" y2="263.1" stroke="#000" stroke-width="0.8" />
<line x1="262.5" y1="258.66" x2="264" y2="258.66" stroke="#000" stroke-width="0.8" />
<line x1="262.5" y1="254.22" x2="264" y2="254.22" stroke="#000" stroke-width="0.8" />
<line x1="262.5" y1="249.78" x2="264" y2="249.78" stroke="#000" stroke-width="0.8" />
<line x1="262.5" y1="245.34" x2="264" y2="245.34" stroke="#000" stroke-width="0.8" />
<line x1="262.5" y1="240.9" x2="265" y2="240.9" stroke="#000" stroke-width="0.8" />
<line x1="262.5" y1="236.46" x2="264" y2="236.46" stroke="#000" stroke-width="0.8" />
<line x1="262.5" y1="232.02" x2="264" y2="232.02" stroke="#000" stroke-width="0.8" />
<line x1="262.5" y1="227.58" x2="264" y2="227.58" stroke="#000" stroke-width="0.8" />
<line x1="262.5" y1="223.14" x2="264" y2="223.14" stroke="#000" stroke-width="0.8" />
<line x1="262.5" y1="218.7" x2="265" y2="218.7" stroke="#000" stroke-width="0.8" />
<line x1="262.5" y1="214.26" x2="264" y2="214.26" stroke="#000" stroke-width="0.8" />
<line x1="262.5" y1="209.82" x2="264" y2="209.82" stroke="#000" stroke-width="0.8" />
<line x1="262.5" y1="205.38" x2="264" y2="205.38" stroke="#000" stroke-width="0.8" />
<line x1="262.5" y1="200.94" x2="264" y2="200.94" stroke="#000" stroke-width="0.8" />
<line x1="262.5" y1="196.5" x2="265" y2="196.5" stroke="#000" stroke-width="0.8" />
<line x1="262.5" y1="192.06" x2="264" y2="192.06" stroke="#000" stroke-width="0.8" />
<line x1="262.5" y1="187.62" x2="264" y2="187.62" stroke="#000" stroke-width="0.8" />
<line x1="262.5" y1="183.18" x2="264" y2="183.18" stroke="#000" stroke-width="0.8" />
<line x1="262.5" y1="178.74" x2="264" y2="178.74" stroke="#000" stroke-width="0.8" />
<polyline points="285.03,297.29 360.13,260.88 435.23,197.61" fill="none" stroke="#22b14c" stroke-width="1.6"/>
<polyline points="285.03,289.96 360.13,252 435.23,187.62" fill="none" stroke="#f07f2a" stroke-width="1.6"/>
<polyline points="285.03,283.52 360.13,245.34 435.23,182.51" fill="none" stroke="#4a76c9" stroke-width="1.6"/>
<rect x="283.43" y="295.69" width="3.2" height="3.2" fill="#444"/>
<rect x="358.53" y="259.28" width="3.2" height="3.2" fill="#444"/>
<rect x="433.63" y="196.01" width="3.2" height="3.2" fill="#444"/>
<circle cx="285.03" cy="289.96" r="1.7" fill="#444"/>
<circle cx="360.13" cy="252" r="1.7" fill="#444"/>
<circle cx="435.23" cy="187.62" r="1.7" fill="#444"/>
<path d="M283.23,284.92 L286.83,284.92 L285.03,281.72 Z" fill="#444"/>
<path d="M358.33,246.74 L361.93,246.74 L360.13,243.54 Z" fill="#444"/>
<path d="M433.43,183.91 L437.03,183.91 L435.23,180.71 Z" fill="#444"/>
<text x="262.5" y="324.3" font-size="10.2" text-anchor="middle" fill="#000" color="#000" font-weight="normal" >15</text>
<text x="300.05" y="324.3" font-size="10.2" text-anchor="middle" fill="#000" color="#000" font-weight="normal" >20</text>
<text x="337.6" y="324.3" font-size="10.2" text-anchor="middle" fill="#000" color="#000" font-weight="normal" >25</text>
<text x="375.15" y="324.3" font-size="10.2" text-anchor="middle" fill="#000" color="#000" font-weight="normal" >30</text>
<text x="412.7" y="324.3" font-size="10.2" text-anchor="middle" fill="#000" color="#000" font-weight="normal" >35</text>
<text x="450.25" y="324.3" font-size="10.2" text-anchor="middle" fill="#000" color="#000" font-weight="normal" >40</text>
<text x="254.8" y="311.1" font-size="10.5" text-anchor="end" fill="#000" color="#000" font-weight="normal" >80</text>
<text x="254.8" y="288.9" font-size="10.5" text-anchor="end" fill="#000" color="#000" font-weight="normal" >90</text>
<text x="254.8" y="266.7" font-size="10.5" text-anchor="end" fill="#000" color="#000" font-weight="normal" >100</text>
<text x="254.8" y="244.5" font-size="10.5" text-anchor="end" fill="#000" color="#000" font-weight="normal" >110</text>
<text x="254.8" y="222.3" font-size="10.5" text-anchor="end" fill="#000" color="#000" font-weight="normal" >120</text>
<text x="254.8" y="200.1" font-size="10.5" text-anchor="end" fill="#000" color="#000" font-weight="normal" >130</text>
<text x="353" y="335" font-size="11.2" text-anchor="middle" fill="#000" color="#000" font-weight="normal" >Channel height (µm)</text>
<text x="0" y="0" font-size="11.2" text-anchor="middle" transform="translate(236.8,246.3) rotate(-90)">Droplet diameter (µm)</text>
<text x="250.6" y="178.8" font-size="14.5" text-anchor="start" fill="#000" color="#000" font-weight="bold" >D</text>
<rect x="265" y="179.5" width="66" height="33" fill="#fff"/>
<line x1="272.8" y1="186" x2="293.5" y2="186" stroke="#22b14c" stroke-width="1.6" />
<rect x="281.6" y="184.4" width="3.2" height="3.2" fill="#444"/>
<text x="294.8" y="189.1" font-size="8.8" text-anchor="start" fill="#000" color="#000" font-weight="normal" >w = 110</text>
<line x1="272.8" y1="197" x2="293.5" y2="197" stroke="#f07f2a" stroke-width="1.6" />
<circle cx="283.2" cy="197" r="1.7" fill="#444"/>
<text x="294.8" y="200.1" font-size="8.8" text-anchor="start" fill="#000" color="#000" font-weight="normal" >w = 130</text>
<line x1="272.8" y1="207.9" x2="293.5" y2="207.9" stroke="#4a76c9" stroke-width="1.6" />
<path d="M281.4,209.3 L285,209.3 L283.2,206.1 Z" fill="#444"/>
<text x="294.8" y="211" font-size="8.8" text-anchor="start" fill="#000" color="#000" font-weight="normal" >w = 150</text>
<rect x="6.7" y="343.9" width="446.8" height="200.9" rx="6.8" ry="6.8" fill="none" stroke="#4a68a8" stroke-width="1.3"/>
<text x="15.9" y="358.2" font-size="14" text-anchor="start" fill="#000" color="#000" font-weight="bold" >E</text>
<rect x="19.5" y="359.5" width="107" height="81.5" fill="url(#pa)" filter="url(#soft)"/>
<rect x="19.5" y="359.5" width="107" height="81.5" fill="url(#oa)"/>
<rect x="126.5" y="359.5" width="103.5" height="81.5" fill="url(#pb)" filter="url(#soft)"/>
<rect x="126.5" y="359.5" width="103.5" height="81.5" fill="url(#ob)"/>
<rect x="230" y="359.5" width="106.3" height="81.5" fill="url(#pc)" filter="url(#soft)"/>
<rect x="230" y="359.5" width="106.3" height="81.5" fill="url(#oc)"/>
<rect x="336.3" y="359.5" width="106.1" height="81.5" fill="url(#pd)" filter="url(#soft)"/>
<rect x="336.3" y="359.5" width="106.1" height="81.5" fill="url(#od)"/>
<rect x="19.8" y="453" width="107.2" height="81.2" fill="url(#pe)" filter="url(#soft)"/>
<rect x="19.8" y="453" width="107.2" height="81.2" fill="url(#oe)"/>
<rect x="127" y="453" width="103" height="81.2" fill="url(#pf)" filter="url(#soft)"/>
<rect x="127" y="453" width="103" height="81.2" fill="url(#of)"/>
<rect x="230" y="453" width="104.2" height="81.2" fill="url(#pg)" filter="url(#soft)"/>
<rect x="230" y="453" width="104.2" height="81.2" fill="url(#og)"/>
<rect x="334.2" y="453" width="108.2" height="81.2" fill="url(#ph)" filter="url(#soft)"/>
<rect x="334.2" y="453" width="108.2" height="81.2" fill="url(#oh)"/>
<rect x="19.5" y="359.5" width="107" height="81.5" fill="none" stroke="#2b4a96" stroke-width="1.1"/>
<text x="25.5" y="372.5" font-size="10.5" text-anchor="start" fill="#fff" color="#fff" font-weight="bold" >a</text>
<text x="25.1" y="438.2" font-size="9.5" text-anchor="start" fill="#fff" color="#fff" font-weight="bold" textLength="30.8" lengthAdjust="spacingAndGlyphs" xml:space="preserve">73.1 µm</text>
<text x="66.6" y="438.2" font-size="9.5" text-anchor="start" fill="#fff" color="#fff" font-weight="bold" textLength="50.5" lengthAdjust="spacingAndGlyphs">CV = 4.52 %</text>
<rect x="126.5" y="359.5" width="103.5" height="81.5" fill="none" stroke="#2b4a96" stroke-width="1.1"/>
<text x="131.6" y="372.5" font-size="10.5" text-anchor="start" fill="#fff" color="#fff" font-weight="bold" >b</text>
<text x="132.1" y="438.2" font-size="9.5" text-anchor="start" fill="#fff" color="#fff" font-weight="bold" textLength="30.8" lengthAdjust="spacingAndGlyphs" xml:space="preserve">82.1 µm</text>
<text x="173.6" y="438.2" font-size="9.5" text-anchor="start" fill="#fff" color="#fff" font-weight="bold" textLength="50.5" lengthAdjust="spacingAndGlyphs">CV = 4.58 %</text>
<rect x="230" y="359.5" width="106.3" height="81.5" fill="none" stroke="#2b4a96" stroke-width="1.1"/>
<text x="236.6" y="372.5" font-size="10.5" text-anchor="start" fill="#fff" color="#fff" font-weight="bold" >c</text>
<text x="234.6" y="438.2" font-size="9.5" text-anchor="start" fill="#fff" color="#fff" font-weight="bold" textLength="31.3" lengthAdjust="spacingAndGlyphs" xml:space="preserve">91.8 µm</text>
<text x="275.4" y="438.2" font-size="9.5" text-anchor="start" fill="#fff" color="#fff" font-weight="bold" textLength="51" lengthAdjust="spacingAndGlyphs">CV = 3.80 %</text>
<rect x="336.3" y="359.5" width="106.1" height="81.5" fill="none" stroke="#2b4a96" stroke-width="1.1"/>
<text x="341.5" y="372.8" font-size="10.5" text-anchor="start" fill="#fff" color="#fff" font-weight="bold" >d</text>
<text x="339.2" y="438.2" font-size="9.5" text-anchor="start" fill="#fff" color="#fff" font-weight="bold" textLength="35.6" lengthAdjust="spacingAndGlyphs" xml:space="preserve">100.5 µm</text>
<text x="385" y="438.2" font-size="9.5" text-anchor="start" fill="#fff" color="#fff" font-weight="bold" textLength="50.5" lengthAdjust="spacingAndGlyphs">CV = 3.21 %</text>
<rect x="19.8" y="453" width="107.2" height="81.2" fill="none" stroke="#2b4a96" stroke-width="1.1"/>
<text x="25.6" y="464" font-size="10.5" text-anchor="start" fill="#fff" color="#fff" font-weight="bold" >e</text>
<text x="25.6" y="531" font-size="9.5" text-anchor="start" fill="#fff" color="#fff" font-weight="bold" textLength="36.3" lengthAdjust="spacingAndGlyphs" xml:space="preserve">110.4 µm</text>
<text x="69.7" y="531" font-size="9.5" text-anchor="start" fill="#fff" color="#fff" font-weight="bold" textLength="51.4" lengthAdjust="spacingAndGlyphs">CV = 3.70 %</text>
<rect x="127" y="453" width="103" height="81.2" fill="none" stroke="#2b4a96" stroke-width="1.1"/>
<text x="134.2" y="464.3" font-size="10.5" text-anchor="start" fill="#fff" color="#fff" font-weight="bold" >f</text>
<text x="129.3" y="531" font-size="9.5" text-anchor="start" fill="#fff" color="#fff" font-weight="bold" textLength="38.4" lengthAdjust="spacingAndGlyphs" xml:space="preserve">118.2  µm</text>
<text x="176.7" y="531" font-size="9.5" text-anchor="start" fill="#fff" color="#fff" font-weight="bold" textLength="50.7" lengthAdjust="spacingAndGlyphs">CV = 3.15 %</text>
<rect x="230" y="453" width="104.2" height="81.2" fill="none" stroke="#2b4a96" stroke-width="1.1"/>
<text x="237.9" y="464.3" font-size="10.5" text-anchor="start" fill="#fff" color="#fff" font-weight="bold" >g</text>
<text x="235.1" y="531" font-size="9.5" text-anchor="start" fill="#fff" color="#fff" font-weight="bold" textLength="36.8" lengthAdjust="spacingAndGlyphs" xml:space="preserve">130.3 µm</text>
<text x="281.3" y="531" font-size="9.5" text-anchor="start" fill="#fff" color="#fff" font-weight="bold" textLength="51" lengthAdjust="spacingAndGlyphs">CV = 2.08 %</text>
<rect x="334.2" y="453" width="108.2" height="81.2" fill="none" stroke="#2b4a96" stroke-width="1.1"/>
<text x="341.5" y="463.8" font-size="10.5" text-anchor="start" fill="#fff" color="#fff" font-weight="bold" >h</text>
<text x="339.9" y="531.4" font-size="9.5" text-anchor="start" fill="#fff" color="#fff" font-weight="bold" textLength="36.3" lengthAdjust="spacingAndGlyphs" xml:space="preserve">155.9 µm</text>
<text x="385.7" y="531.4" font-size="9.5" text-anchor="start" fill="#fff" color="#fff" font-weight="bold" textLength="50.7" lengthAdjust="spacingAndGlyphs">CV = 4.09 %</text>
<rect x="87" y="420.2" width="14.6" height="2.6" fill="#fff"/>
</svg></body></html>
